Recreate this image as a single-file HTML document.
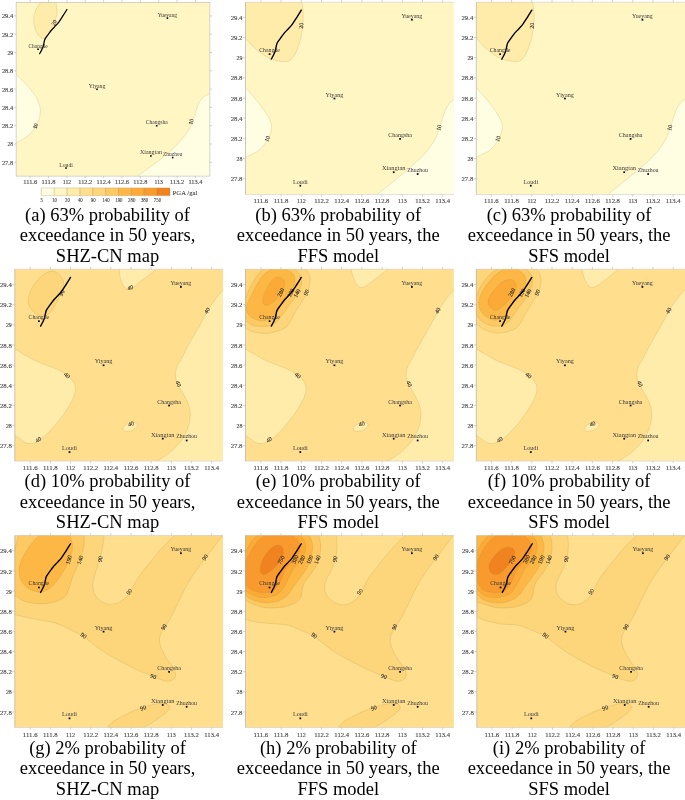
<!DOCTYPE html>
<html lang="en">
<head>
<meta charset="utf-8">
<title>PGA hazard maps</title>
<style>
html,body{margin:0;padding:0;background:#fff;}
body{width:685px;height:800px;overflow:hidden;font-family:"Liberation Serif",serif;}
svg{display:block;}
</style>
</head>
<body>
<svg width="685" height="800" viewBox="0 0 685 800">
<defs>
<clipPath id="cpa"><rect x="16.1" y="2.35" width="193.8" height="173.75"/></clipPath>
<clipPath id="cpb"><rect x="245.5" y="2.25" width="208.3" height="192.35"/></clipPath>
<clipPath id="cpc"><rect x="476.3" y="2.25" width="209.2" height="192.35"/></clipPath>
<clipPath id="cpd"><rect x="14.8" y="269.2" width="208.2" height="191.9"/></clipPath>
<clipPath id="cpe"><rect x="245.5" y="269.2" width="208.3" height="191.9"/></clipPath>
<clipPath id="cpf"><rect x="476.3" y="269.2" width="209.2" height="191.9"/></clipPath>
<clipPath id="cpg"><rect x="14.8" y="535.5" width="208.2" height="192"/></clipPath>
<clipPath id="cph"><rect x="245.5" y="535.5" width="208.3" height="192"/></clipPath>
<clipPath id="cpi"><rect x="476.8" y="535.5" width="208.7" height="192"/></clipPath>
</defs>
<rect width="685" height="800" fill="#fff"/>
<g id="panel-a">
<rect x="16.1" y="2.35" width="193.8" height="173.75" fill="#FFF6C3"/>
<g clip-path="url(#cpa)" stroke="#A58432" stroke-opacity="0.5" stroke-width="0.36" stroke-linejoin="round">
<path d="M48 -4C49.67 -4 52.2 -3.53 53.5 -2.5C54.8 -1.47 55.22 0.32 55.8 2.2C56.38 4.08 56.95 6.25 57 8.8C57.05 11.35 56.9 14.15 56.1 17.5C55.3 20.85 53.73 25.83 52.2 28.9C50.67 31.97 48.43 34.3 46.9 35.9C45.37 37.5 44.32 38.5 43 38.5C41.68 38.5 40.25 37.35 39 35.9C37.75 34.45 36.37 32.43 35.5 29.8C34.63 27.17 33.8 23.32 33.8 20.1C33.8 16.88 34.33 13.48 35.5 10.5C36.67 7.52 39.47 4.37 40.8 2.2C42.13 0.03 42.3 -1.47 43.5 -2.5C44.7 -3.53 46.33 -4 48 -4Z" fill="#FFEBAA"/>
<path d="M12 70.5C12.68 71.2 14.43 73.12 16.1 74.7C17.77 76.28 20.02 78.03 22 80C23.98 81.97 26.17 84.42 28 86.5C29.83 88.58 31.42 90.33 33 92.5C34.58 94.67 36.28 96.83 37.5 99.5C38.72 102.17 39.88 105.88 40.3 108.5C40.72 111.12 40.5 112.68 40 115.2C39.5 117.72 38.65 120.8 37.3 123.6C35.95 126.4 33.92 129.63 31.9 132C29.88 134.37 27.83 135.98 25.2 137.8C22.57 139.62 18.47 141.62 16.1 142.9C13.73 144.18 11.85 145.07 11 145.5L8 146C8 133.33 8 82.67 8 70Z" fill="#FFFDE2"/>
<path d="M213 91.8C212.4 92.12 210.9 92.88 209.4 93.7C207.9 94.52 205.73 95.22 204 96.7C202.27 98.18 200.25 100.37 199 102.6C197.75 104.83 197.48 107.17 196.5 110.1C195.52 113.03 194.37 116.98 193.1 120.2C191.83 123.42 190.72 126.32 188.9 129.4C187.08 132.48 184.72 135.62 182.2 138.7C179.68 141.78 177.15 144.68 173.8 147.9C170.45 151.12 166.3 154.63 162.1 158C157.9 161.37 152.8 165.03 148.6 168.1C144.4 171.17 139.83 174.32 136.9 176.4C133.97 178.48 131.98 179.9 131 180.6L216 181C216 166.13 216 106.67 216 91.8Z" fill="#FFFDE2"/>
</g>
<rect x="16.1" y="2.35" width="193.8" height="173.75" fill="none" stroke="#B4B4B4" stroke-width="0.55"/>
<path d="M30.2 176.1v2.2M30.2 2.35v-2.4M48.56 176.1v2.2M48.56 2.35v-2.4M66.92 176.1v2.2M66.92 2.35v-2.4M85.28 176.1v2.2M85.28 2.35v-2.4M103.64 176.1v2.2M103.64 2.35v-2.4M122 176.1v2.2M122 2.35v-2.4M140.36 176.1v2.2M140.36 2.35v-2.4M158.72 176.1v2.2M158.72 2.35v-2.4M177.08 176.1v2.2M177.08 2.35v-2.4M195.44 176.1v2.2M195.44 2.35v-2.4M16.1 15.9h-1.9M209.9 15.9h2.2M16.1 34.2h-1.9M209.9 34.2h2.2M16.1 52.5h-1.9M209.9 52.5h2.2M16.1 70.8h-1.9M209.9 70.8h2.2M16.1 89.1h-1.9M209.9 89.1h2.2M16.1 107.4h-1.9M209.9 107.4h2.2M16.1 125.7h-1.9M209.9 125.7h2.2M16.1 144h-1.9M209.9 144h2.2M16.1 162.3h-1.9M209.9 162.3h2.2" stroke="#9E9E9E" stroke-width="0.45" fill="none"/>
<g font-family="'Liberation Serif','Noto Serif CJK SC',serif" font-size="5.5" fill="#4a4a4a" stroke="#4a4a4a" stroke-width="0.12">
<text x="30.2" y="184.47" text-anchor="middle" textLength="14" lengthAdjust="spacingAndGlyphs">111.6</text>
<text x="48.56" y="184.47" text-anchor="middle" textLength="14" lengthAdjust="spacingAndGlyphs">111.8</text>
<text x="66.92" y="184.47" text-anchor="middle" textLength="8.4" lengthAdjust="spacingAndGlyphs">112</text>
<text x="85.28" y="184.47" text-anchor="middle" textLength="14" lengthAdjust="spacingAndGlyphs">112.2</text>
<text x="103.64" y="184.47" text-anchor="middle" textLength="14" lengthAdjust="spacingAndGlyphs">112.4</text>
<text x="122" y="184.47" text-anchor="middle" textLength="14" lengthAdjust="spacingAndGlyphs">112.6</text>
<text x="140.36" y="184.47" text-anchor="middle" textLength="14" lengthAdjust="spacingAndGlyphs">112.8</text>
<text x="158.72" y="184.47" text-anchor="middle" textLength="8.4" lengthAdjust="spacingAndGlyphs">113</text>
<text x="177.08" y="184.47" text-anchor="middle" textLength="14" lengthAdjust="spacingAndGlyphs">113.2</text>
<text x="195.44" y="184.47" text-anchor="middle" textLength="14" lengthAdjust="spacingAndGlyphs">113.4</text>
<text x="13.1" y="18.37" text-anchor="end" textLength="11.2" lengthAdjust="spacingAndGlyphs">29.4</text>
<text x="13.1" y="36.67" text-anchor="end" textLength="11.2" lengthAdjust="spacingAndGlyphs">29.2</text>
<text x="13.1" y="54.97" text-anchor="end" textLength="5.6" lengthAdjust="spacingAndGlyphs">29</text>
<text x="13.1" y="73.27" text-anchor="end" textLength="11.2" lengthAdjust="spacingAndGlyphs">28.8</text>
<text x="13.1" y="91.57" text-anchor="end" textLength="11.2" lengthAdjust="spacingAndGlyphs">28.6</text>
<text x="13.1" y="109.87" text-anchor="end" textLength="11.2" lengthAdjust="spacingAndGlyphs">28.4</text>
<text x="13.1" y="128.17" text-anchor="end" textLength="11.2" lengthAdjust="spacingAndGlyphs">28.2</text>
<text x="13.1" y="146.47" text-anchor="end" textLength="5.6" lengthAdjust="spacingAndGlyphs">28</text>
<text x="13.1" y="164.77" text-anchor="end" textLength="11.2" lengthAdjust="spacingAndGlyphs">27.8</text>
</g>
<g font-family="'Liberation Serif','Noto Serif CJK SC',serif" font-size="5.5" fill="#2a2a2a" stroke="#2a2a2a" stroke-width="0.1" text-anchor="middle" clip-path="url(#cpa)">
<text transform="translate(54.1 22.7) rotate(-62)" y="1.82" textLength="5.5" lengthAdjust="spacingAndGlyphs">20</text>
<text transform="translate(35.6 126.1) rotate(-68)" y="1.82" textLength="5.5" lengthAdjust="spacingAndGlyphs">10</text>
<text transform="translate(191.1 121.6) rotate(-78)" y="1.82" textLength="5.5" lengthAdjust="spacingAndGlyphs">10</text>
</g>
<path d="M66.92 9.49C66.25 10.56 64.23 13.81 62.88 15.9C61.53 17.99 60.16 20.28 58.84 22.03C57.53 23.78 56.19 25.1 54.99 26.42C53.78 27.75 52.74 28.62 51.59 29.99C50.44 31.36 49.2 33.13 48.1 34.66C47 36.18 45.67 37.77 44.98 39.14C44.29 40.51 44.26 41.7 43.97 42.89C43.68 44.08 43.62 45.1 43.24 46.28C42.85 47.45 42.27 48.7 41.67 49.94C41.08 51.17 39.99 53.06 39.66 53.69" fill="none" stroke="#000" stroke-width="1.25" stroke-linecap="round" stroke-linejoin="round"/>
<g font-family="'Liberation Serif','Noto Serif CJK SC',serif" font-size="5.5" fill="#3c3c3c" text-anchor="middle">
<rect x="37.31" y="48.43" width="1.56" height="1.56" fill="#000"/>
<text x="38.09" y="47.76" textLength="19.25" lengthAdjust="spacingAndGlyphs">Changde</text>
<rect x="166.66" y="17.32" width="1.56" height="1.56" fill="#000"/>
<text x="167.44" y="16.65" textLength="19.25" lengthAdjust="spacingAndGlyphs">Yueyang</text>
<rect x="96.25" y="88.5" width="1.56" height="1.56" fill="#000"/>
<text x="97.03" y="87.83" textLength="16.5" lengthAdjust="spacingAndGlyphs">Yiyang</text>
<rect x="155.92" y="125.01" width="1.56" height="1.56" fill="#000"/>
<text x="156.7" y="124.34" textLength="22" lengthAdjust="spacingAndGlyphs">Changsha</text>
<rect x="150.14" y="155.11" width="1.56" height="1.56" fill="#000"/>
<text x="150.92" y="154.44" textLength="22" lengthAdjust="spacingAndGlyphs">Xiangtan</text>
<rect x="171.89" y="156.76" width="1.56" height="1.56" fill="#000"/>
<text x="172.67" y="156.09" textLength="19.25" lengthAdjust="spacingAndGlyphs">Zhuzhou</text>
<rect x="65.22" y="167.28" width="1.56" height="1.56" fill="#000"/>
<text x="66" y="166.61" textLength="13.75" lengthAdjust="spacingAndGlyphs">Loudi</text>
</g>
</g>
<g id="panel-b">
<rect x="245.5" y="2.25" width="208.3" height="192.35" fill="#FFF6C3"/>
<g clip-path="url(#cpb)" stroke="#A58432" stroke-opacity="0.5" stroke-width="0.36" stroke-linejoin="round">
<path d="M301.3 -3C301.43 -2.08 301.78 -0.67 302.1 2.5C302.42 5.67 303.2 11.07 303.2 16C303.2 20.93 302.77 27.53 302.1 32.1C301.43 36.67 300.27 39.92 299.2 43.4C298.13 46.88 297.1 50.28 295.7 53C294.3 55.72 292.55 58.28 290.8 59.7C289.05 61.12 288.13 61.5 285.2 61.5C282.27 61.5 277.07 60.98 273.2 59.7C269.33 58.42 265.48 56.12 262 53.8C258.52 51.48 255.07 48.48 252.3 45.8C249.53 43.12 247.37 40.17 245.4 37.7C243.43 35.23 241.32 32.12 240.5 31L240 -3Z" fill="#FFEBAA"/>
<path d="M241.5 83C242.17 83.77 243.22 85.02 245.5 87.6C247.78 90.18 252.18 94.87 255.2 98.5C258.22 102.13 261.23 106.03 263.6 109.4C265.97 112.77 268.07 115.9 269.4 118.7C270.73 121.5 271.45 123.68 271.6 126.2C271.75 128.72 271.22 131.13 270.3 133.8C269.38 136.47 268.07 139.4 266.1 142.2C264.13 145 261.87 148.13 258.5 150.6C255.13 153.07 248.9 155.55 245.9 157C242.9 158.45 241.4 158.92 240.5 159.3L238 159.5C238 146.75 238 95.75 238 83Z" fill="#FFFDE2"/>
<path d="M458 97.3C457.3 97.72 455.15 98.9 453.8 99.8C452.45 100.7 451.1 101.38 449.9 102.7C448.7 104.02 447.72 105.47 446.6 107.7C445.48 109.93 444.33 112.88 443.2 116.1C442.07 119.32 440.92 123.65 439.8 127C438.68 130.35 438.03 132.98 436.5 136.2C434.97 139.42 432.98 142.93 430.6 146.3C428.22 149.67 425.28 153.18 422.2 156.4C419.12 159.62 415.73 162.38 412.1 165.6C408.47 168.82 404.58 172.2 400.4 175.7C396.22 179.2 390.92 183.45 387 186.6C383.08 189.75 379.48 192.53 376.9 194.6C374.32 196.67 372.4 198.27 371.5 199L460 199.5C460 182.47 460 114.33 460 97.3Z" fill="#FFFDE2"/>
</g>
<path d="M453.8 2.25H245.5M245.5 194.6H453.8" fill="none" stroke="#C6C6CC" stroke-width="0.5"/>
<path d="M245.5 2.25V194.6" fill="none" stroke="#A6A6A6" stroke-width="0.6"/>
<path d="M260.9 194.6v2.2M260.9 2.25v-2.4M281.1 194.6v2.2M281.1 2.25v-2.4M301.3 194.6v2.2M301.3 2.25v-2.4M321.5 194.6v2.2M321.5 2.25v-2.4M341.7 194.6v2.2M341.7 2.25v-2.4M361.9 194.6v2.2M361.9 2.25v-2.4M382.1 194.6v2.2M382.1 2.25v-2.4M402.3 194.6v2.2M402.3 2.25v-2.4M422.5 194.6v2.2M422.5 2.25v-2.4M442.7 194.6v2.2M442.7 2.25v-2.4M245.5 17.3h-2.5M245.5 37.48h-2.5M245.5 57.66h-2.5M245.5 77.84h-2.5M245.5 98.02h-2.5M245.5 118.2h-2.5M245.5 138.38h-2.5M245.5 158.56h-2.5M245.5 178.74h-2.5" stroke="#9E9E9E" stroke-width="0.45" fill="none"/>
<g font-family="'Liberation Serif','Noto Serif CJK SC',serif" font-size="5.9" fill="#4a4a4a" stroke="#4a4a4a" stroke-width="0.12">
<text x="260.9" y="203.01" text-anchor="middle" textLength="14.75" lengthAdjust="spacingAndGlyphs">111.6</text>
<text x="281.1" y="203.01" text-anchor="middle" textLength="14.75" lengthAdjust="spacingAndGlyphs">111.8</text>
<text x="301.3" y="203.01" text-anchor="middle" textLength="8.85" lengthAdjust="spacingAndGlyphs">112</text>
<text x="321.5" y="203.01" text-anchor="middle" textLength="14.75" lengthAdjust="spacingAndGlyphs">112.2</text>
<text x="341.7" y="203.01" text-anchor="middle" textLength="14.75" lengthAdjust="spacingAndGlyphs">112.4</text>
<text x="361.9" y="203.01" text-anchor="middle" textLength="14.75" lengthAdjust="spacingAndGlyphs">112.6</text>
<text x="382.1" y="203.01" text-anchor="middle" textLength="14.75" lengthAdjust="spacingAndGlyphs">112.8</text>
<text x="402.3" y="203.01" text-anchor="middle" textLength="8.85" lengthAdjust="spacingAndGlyphs">113</text>
<text x="422.5" y="203.01" text-anchor="middle" textLength="14.75" lengthAdjust="spacingAndGlyphs">113.2</text>
<text x="442.7" y="203.01" text-anchor="middle" textLength="14.75" lengthAdjust="spacingAndGlyphs">113.4</text>
<text x="242.5" y="19.91" text-anchor="end" textLength="11.8" lengthAdjust="spacingAndGlyphs">29.4</text>
<text x="242.5" y="40.09" text-anchor="end" textLength="11.8" lengthAdjust="spacingAndGlyphs">29.2</text>
<text x="242.5" y="60.27" text-anchor="end" textLength="5.9" lengthAdjust="spacingAndGlyphs">29</text>
<text x="242.5" y="80.45" text-anchor="end" textLength="11.8" lengthAdjust="spacingAndGlyphs">28.8</text>
<text x="242.5" y="100.63" text-anchor="end" textLength="11.8" lengthAdjust="spacingAndGlyphs">28.6</text>
<text x="242.5" y="120.81" text-anchor="end" textLength="11.8" lengthAdjust="spacingAndGlyphs">28.4</text>
<text x="242.5" y="140.99" text-anchor="end" textLength="11.8" lengthAdjust="spacingAndGlyphs">28.2</text>
<text x="242.5" y="161.17" text-anchor="end" textLength="5.9" lengthAdjust="spacingAndGlyphs">28</text>
<text x="242.5" y="181.35" text-anchor="end" textLength="11.8" lengthAdjust="spacingAndGlyphs">27.8</text>
</g>
<g font-family="'Liberation Serif','Noto Serif CJK SC',serif" font-size="5.9" fill="#2a2a2a" stroke="#2a2a2a" stroke-width="0.1" text-anchor="middle" clip-path="url(#cpb)">
<text transform="translate(301.2 25.7) rotate(-88)" y="1.95" textLength="5.9" lengthAdjust="spacingAndGlyphs">20</text>
<text transform="translate(267.3 138.8) rotate(-68)" y="1.95" textLength="5.9" lengthAdjust="spacingAndGlyphs">10</text>
<text transform="translate(439 127.8) rotate(-78)" y="1.95" textLength="5.9" lengthAdjust="spacingAndGlyphs">10</text>
</g>
<path d="M301.3 10.21C300.56 11.39 298.34 14.99 296.86 17.3C295.37 19.61 293.86 22.14 292.41 24.08C290.96 26.02 289.5 27.48 288.17 28.94C286.84 30.41 285.7 31.37 284.43 32.89C283.17 34.41 281.81 36.37 280.6 38.06C279.38 39.74 277.92 41.5 277.16 43.02C276.4 44.54 276.37 45.85 276.05 47.17C275.73 48.48 275.66 49.62 275.24 50.91C274.82 52.21 274.18 53.6 273.52 54.96C272.87 56.33 271.67 58.42 271.3 59.12" fill="none" stroke="#000" stroke-width="1.4" stroke-linecap="round" stroke-linejoin="round"/>
<g font-family="'Liberation Serif','Noto Serif CJK SC',serif" font-size="5.9" fill="#3c3c3c" text-anchor="middle">
<rect x="268.73" y="53.29" width="1.72" height="1.72" fill="#000"/>
<text x="269.59" y="52.17" textLength="20.65" lengthAdjust="spacingAndGlyphs">Changde</text>
<rect x="411.04" y="18.87" width="1.72" height="1.72" fill="#000"/>
<text x="411.9" y="17.75" textLength="20.65" lengthAdjust="spacingAndGlyphs">Yueyang</text>
<rect x="333.57" y="97.64" width="1.72" height="1.72" fill="#000"/>
<text x="334.43" y="96.52" textLength="17.7" lengthAdjust="spacingAndGlyphs">Yiyang</text>
<rect x="399.22" y="138.04" width="1.72" height="1.72" fill="#000"/>
<text x="400.08" y="136.92" textLength="23.6" lengthAdjust="spacingAndGlyphs">Changsha</text>
<rect x="392.86" y="171.35" width="1.72" height="1.72" fill="#000"/>
<text x="393.72" y="170.23" textLength="23.6" lengthAdjust="spacingAndGlyphs">Xiangtan</text>
<rect x="416.79" y="173.17" width="1.72" height="1.72" fill="#000"/>
<text x="417.65" y="172.05" textLength="20.65" lengthAdjust="spacingAndGlyphs">Zhuzhou</text>
<rect x="299.43" y="184.82" width="1.72" height="1.72" fill="#000"/>
<text x="300.29" y="183.7" textLength="14.75" lengthAdjust="spacingAndGlyphs">Loudi</text>
</g>
</g>
<g id="panel-c">
<rect x="476.3" y="2.25" width="209.2" height="192.35" fill="#FFF6C3"/>
<g clip-path="url(#cpc)" stroke="#A58432" stroke-opacity="0.5" stroke-width="0.36" stroke-linejoin="round">
<path d="M532.05 -3C532.18 -2.08 532.53 -0.67 532.85 2.5C533.17 5.67 533.95 11.07 533.95 16C533.95 20.93 533.52 27.53 532.85 32.1C532.18 36.67 531.02 39.92 529.95 43.4C528.88 46.88 527.85 50.28 526.45 53C525.05 55.72 523.3 58.28 521.55 59.7C519.8 61.12 518.88 61.5 515.95 61.5C513.02 61.5 507.82 60.98 503.95 59.7C500.08 58.42 496.23 56.12 492.75 53.8C489.27 51.48 485.82 48.48 483.05 45.8C480.28 43.12 478.12 40.17 476.15 37.7C474.18 35.23 472.07 32.12 471.25 31L470.75 -3Z" fill="#FFEBAA"/>
<path d="M472.25 83C472.92 83.77 473.97 85.02 476.25 87.6C478.53 90.18 482.93 94.87 485.95 98.5C488.97 102.13 491.98 106.03 494.35 109.4C496.72 112.77 498.82 115.9 500.15 118.7C501.48 121.5 502.2 123.68 502.35 126.2C502.5 128.72 501.97 131.13 501.05 133.8C500.13 136.47 498.82 139.4 496.85 142.2C494.88 145 492.62 148.13 489.25 150.6C485.88 153.07 479.65 155.55 476.65 157C473.65 158.45 472.15 158.92 471.25 159.3L468.75 159.5C468.75 146.75 468.75 95.75 468.75 83Z" fill="#FFFDE2"/>
<path d="M688.75 97.3C688.05 97.72 685.9 98.9 684.55 99.8C683.2 100.7 681.85 101.38 680.65 102.7C679.45 104.02 678.47 105.47 677.35 107.7C676.23 109.93 675.08 112.88 673.95 116.1C672.82 119.32 671.67 123.65 670.55 127C669.43 130.35 668.78 132.98 667.25 136.2C665.72 139.42 663.73 142.93 661.35 146.3C658.97 149.67 656.03 153.18 652.95 156.4C649.87 159.62 646.48 162.38 642.85 165.6C639.22 168.82 635.33 172.2 631.15 175.7C626.97 179.2 621.67 183.45 617.75 186.6C613.83 189.75 610.23 192.53 607.65 194.6C605.07 196.67 603.15 198.27 602.25 199L690.75 199.5C690.75 182.47 690.75 114.33 690.75 97.3Z" fill="#FFFDE2"/>
</g>
<path d="M685.5 2.25H476.3M476.3 194.6H685.5" fill="none" stroke="#C6C6CC" stroke-width="0.5"/>
<path d="M476.3 2.25V194.6" fill="none" stroke="#A6A6A6" stroke-width="0.6"/>
<path d="M491.4 194.6v2.2M491.4 2.25v-2.4M511.6 194.6v2.2M511.6 2.25v-2.4M531.8 194.6v2.2M531.8 2.25v-2.4M552 194.6v2.2M552 2.25v-2.4M572.2 194.6v2.2M572.2 2.25v-2.4M592.4 194.6v2.2M592.4 2.25v-2.4M612.6 194.6v2.2M612.6 2.25v-2.4M632.8 194.6v2.2M632.8 2.25v-2.4M653 194.6v2.2M653 2.25v-2.4M673.2 194.6v2.2M673.2 2.25v-2.4M476.3 17.3h-2.5M476.3 37.48h-2.5M476.3 57.66h-2.5M476.3 77.84h-2.5M476.3 98.02h-2.5M476.3 118.2h-2.5M476.3 138.38h-2.5M476.3 158.56h-2.5M476.3 178.74h-2.5" stroke="#9E9E9E" stroke-width="0.45" fill="none"/>
<g font-family="'Liberation Serif','Noto Serif CJK SC',serif" font-size="5.9" fill="#4a4a4a" stroke="#4a4a4a" stroke-width="0.12">
<text x="491.4" y="203.01" text-anchor="middle" textLength="14.75" lengthAdjust="spacingAndGlyphs">111.6</text>
<text x="511.6" y="203.01" text-anchor="middle" textLength="14.75" lengthAdjust="spacingAndGlyphs">111.8</text>
<text x="531.8" y="203.01" text-anchor="middle" textLength="8.85" lengthAdjust="spacingAndGlyphs">112</text>
<text x="552" y="203.01" text-anchor="middle" textLength="14.75" lengthAdjust="spacingAndGlyphs">112.2</text>
<text x="572.2" y="203.01" text-anchor="middle" textLength="14.75" lengthAdjust="spacingAndGlyphs">112.4</text>
<text x="592.4" y="203.01" text-anchor="middle" textLength="14.75" lengthAdjust="spacingAndGlyphs">112.6</text>
<text x="612.6" y="203.01" text-anchor="middle" textLength="14.75" lengthAdjust="spacingAndGlyphs">112.8</text>
<text x="632.8" y="203.01" text-anchor="middle" textLength="8.85" lengthAdjust="spacingAndGlyphs">113</text>
<text x="653" y="203.01" text-anchor="middle" textLength="14.75" lengthAdjust="spacingAndGlyphs">113.2</text>
<text x="673.2" y="203.01" text-anchor="middle" textLength="14.75" lengthAdjust="spacingAndGlyphs">113.4</text>
<text x="473.3" y="19.91" text-anchor="end" textLength="11.8" lengthAdjust="spacingAndGlyphs">29.4</text>
<text x="473.3" y="40.09" text-anchor="end" textLength="11.8" lengthAdjust="spacingAndGlyphs">29.2</text>
<text x="473.3" y="60.27" text-anchor="end" textLength="5.9" lengthAdjust="spacingAndGlyphs">29</text>
<text x="473.3" y="80.45" text-anchor="end" textLength="11.8" lengthAdjust="spacingAndGlyphs">28.8</text>
<text x="473.3" y="100.63" text-anchor="end" textLength="11.8" lengthAdjust="spacingAndGlyphs">28.6</text>
<text x="473.3" y="120.81" text-anchor="end" textLength="11.8" lengthAdjust="spacingAndGlyphs">28.4</text>
<text x="473.3" y="140.99" text-anchor="end" textLength="11.8" lengthAdjust="spacingAndGlyphs">28.2</text>
<text x="473.3" y="161.17" text-anchor="end" textLength="5.9" lengthAdjust="spacingAndGlyphs">28</text>
<text x="473.3" y="181.35" text-anchor="end" textLength="11.8" lengthAdjust="spacingAndGlyphs">27.8</text>
</g>
<g font-family="'Liberation Serif','Noto Serif CJK SC',serif" font-size="5.9" fill="#2a2a2a" stroke="#2a2a2a" stroke-width="0.1" text-anchor="middle" clip-path="url(#cpc)">
<text transform="translate(531.95 25.7) rotate(-88)" y="1.95" textLength="5.9" lengthAdjust="spacingAndGlyphs">20</text>
<text transform="translate(498.05 138.8) rotate(-68)" y="1.95" textLength="5.9" lengthAdjust="spacingAndGlyphs">10</text>
<text transform="translate(669.75 127.8) rotate(-78)" y="1.95" textLength="5.9" lengthAdjust="spacingAndGlyphs">10</text>
</g>
<path d="M531.8 10.21C531.06 11.39 528.84 14.99 527.36 17.3C525.87 19.61 524.36 22.14 522.91 24.08C521.46 26.02 520 27.48 518.67 28.94C517.34 30.41 516.2 31.37 514.93 32.89C513.67 34.41 512.31 36.37 511.1 38.06C509.88 39.74 508.42 41.5 507.66 43.02C506.9 44.54 506.87 45.85 506.55 47.17C506.23 48.48 506.16 49.62 505.74 50.91C505.32 52.21 504.68 53.6 504.02 54.96C503.37 56.33 502.17 58.42 501.8 59.12" fill="none" stroke="#000" stroke-width="1.4" stroke-linecap="round" stroke-linejoin="round"/>
<g font-family="'Liberation Serif','Noto Serif CJK SC',serif" font-size="5.9" fill="#3c3c3c" text-anchor="middle">
<rect x="499.23" y="53.29" width="1.72" height="1.72" fill="#000"/>
<text x="500.09" y="52.17" textLength="20.65" lengthAdjust="spacingAndGlyphs">Changde</text>
<rect x="641.54" y="18.87" width="1.72" height="1.72" fill="#000"/>
<text x="642.4" y="17.75" textLength="20.65" lengthAdjust="spacingAndGlyphs">Yueyang</text>
<rect x="564.07" y="97.64" width="1.72" height="1.72" fill="#000"/>
<text x="564.93" y="96.52" textLength="17.7" lengthAdjust="spacingAndGlyphs">Yiyang</text>
<rect x="629.72" y="138.04" width="1.72" height="1.72" fill="#000"/>
<text x="630.58" y="136.92" textLength="23.6" lengthAdjust="spacingAndGlyphs">Changsha</text>
<rect x="623.36" y="171.35" width="1.72" height="1.72" fill="#000"/>
<text x="624.22" y="170.23" textLength="23.6" lengthAdjust="spacingAndGlyphs">Xiangtan</text>
<rect x="647.29" y="173.17" width="1.72" height="1.72" fill="#000"/>
<text x="648.15" y="172.05" textLength="20.65" lengthAdjust="spacingAndGlyphs">Zhuzhou</text>
<rect x="529.93" y="184.82" width="1.72" height="1.72" fill="#000"/>
<text x="530.79" y="183.7" textLength="14.75" lengthAdjust="spacingAndGlyphs">Loudi</text>
</g>
</g>
<g id="panel-d">
<rect x="14.8" y="269.2" width="208.2" height="191.9" fill="#FFDF8E"/>
<g clip-path="url(#cpd)" stroke="#A58432" stroke-opacity="0.5" stroke-width="0.36" stroke-linejoin="round">
<path d="M9.5 345.8C10.38 346.32 12.48 347.53 14.8 348.9C17.12 350.27 20 352.05 23.4 354C26.8 355.95 31.28 358.72 35.2 360.6C39.12 362.48 42.98 363.73 46.9 365.3C50.82 366.87 55.2 368.23 58.7 370C62.2 371.77 65.38 373.8 67.9 375.9C70.42 378 72.53 380.37 73.8 382.6C75.07 384.83 75.63 386.63 75.5 389.3C75.37 391.97 74.27 395.52 73 398.6C71.73 401.68 70 404.45 67.9 407.8C65.8 411.15 63.05 415.2 60.4 418.7C57.75 422.2 54.8 425.72 52 428.8C49.2 431.88 46.12 435.02 43.6 437.2C41.08 439.38 39.15 440.83 36.9 441.9C34.65 442.97 32.07 443.48 30.1 443.6C28.13 443.72 26.77 443.38 25.1 442.6C23.43 441.82 21.78 440.03 20.1 438.9C18.42 437.77 16.77 436.78 15 435.8C13.23 434.82 10.42 433.47 9.5 433L8 433C8 418.47 8 360.33 8 345.8Z" fill="#FFEBAA"/>
<path d="M119 264C119.03 264.87 119.03 267.07 119.2 269.2C119.37 271.33 119.43 274.28 120 276.8C120.57 279.32 121.47 282.27 122.6 284.3C123.73 286.33 125.27 288.3 126.8 289C128.33 289.7 129.57 289.7 131.8 288.5C134.03 287.3 137.37 284 140.2 281.8C143.03 279.6 146.12 277.4 148.8 275.3C151.48 273.2 154.1 271.08 156.3 269.2C158.5 267.32 161.05 264.87 162 264Z" fill="#FFEBAA"/>
<path d="M227.5 285C226.73 285.87 224.87 287.93 222.9 290.2C220.93 292.47 218.3 295.1 215.7 298.6C213.1 302.1 209.82 307 207.3 311.2C204.78 315.4 202.83 319.75 200.6 323.8C198.37 327.85 196.13 331.58 193.9 335.5C191.67 339.42 189.3 343.38 187.2 347.3C185.1 351.22 182.9 356.05 181.3 359C179.7 361.95 178.58 362.6 177.6 365C176.62 367.4 175.53 370.6 175.4 373.4C175.27 376.2 175.68 378.72 176.8 381.8C177.92 384.88 180.37 388.68 182.1 391.9C183.83 395.12 185.88 397.88 187.2 401.1C188.52 404.32 189.58 407.98 190 411.2C190.42 414.42 190.17 417.33 189.7 420.4C189.23 423.47 188.6 426.25 187.2 429.6C185.8 432.95 183.82 437 181.3 440.5C178.78 444 175.03 447.85 172.1 450.6C169.17 453.35 166.22 455.27 163.7 457C161.18 458.73 159.28 459.63 157 461C154.72 462.37 151.17 464.5 150 465.2L231 466C231 435.83 231 315.17 231 285Z" fill="#FFEBAA"/>
<path d="M137.33 423.98C137.62 424.69 137.41 425.75 136.81 426.66C136.21 427.57 134.98 428.67 133.72 429.44C132.47 430.2 130.69 430.92 129.25 431.24C127.82 431.57 126.17 431.63 125.11 431.39C124.04 431.15 123.15 430.53 122.87 429.82C122.58 429.11 122.79 428.05 123.39 427.14C123.99 426.23 125.22 425.13 126.48 424.36C127.73 423.6 129.51 422.88 130.95 422.56C132.38 422.23 134.03 422.17 135.09 422.41C136.16 422.65 137.05 423.27 137.33 423.98Z" fill="#FFEBAA"/>
<path d="M52.8 271.1C55.35 271.35 58.2 273.33 60 275.2C61.8 277.07 63.27 279.75 63.6 282.3C63.93 284.85 62.95 287.6 62 290.5C61.05 293.4 59.43 296.63 57.9 299.7C56.37 302.77 54.5 306.43 52.8 308.9C51.1 311.37 49.4 313.3 47.7 314.5C46 315.7 44.47 316.18 42.6 316.1C40.73 316.02 38.45 315.2 36.5 314C34.55 312.8 32.27 310.93 30.9 308.9C29.53 306.87 28.4 304.7 28.3 301.8C28.2 298.9 28.93 294.92 30.3 291.5C31.67 288.08 34.1 284.27 36.5 281.3C38.9 278.33 41.98 275.4 44.7 273.7C47.42 272 50.25 270.85 52.8 271.1Z" fill="#FDD57A"/>
</g>
<path d="M223 269.2H14.8M14.8 461.1H223" fill="none" stroke="#C6C6CC" stroke-width="0.5"/>
<path d="M14.8 269.2V461.1" fill="none" stroke="#A6A6A6" stroke-width="0.6"/>
<path d="M30.2 461.1v2.2M30.2 269.2v-2.4M50.36 461.1v2.2M50.36 269.2v-2.4M70.52 461.1v2.2M70.52 269.2v-2.4M90.68 461.1v2.2M90.68 269.2v-2.4M110.84 461.1v2.2M110.84 269.2v-2.4M131 461.1v2.2M131 269.2v-2.4M151.16 461.1v2.2M151.16 269.2v-2.4M171.32 461.1v2.2M171.32 269.2v-2.4M191.48 461.1v2.2M191.48 269.2v-2.4M211.64 461.1v2.2M211.64 269.2v-2.4M14.8 284.5h-2.5M14.8 304.65h-2.5M14.8 324.8h-2.5M14.8 344.95h-2.5M14.8 365.1h-2.5M14.8 385.25h-2.5M14.8 405.4h-2.5M14.8 425.55h-2.5M14.8 445.7h-2.5" stroke="#9E9E9E" stroke-width="0.45" fill="none"/>
<g font-family="'Liberation Serif','Noto Serif CJK SC',serif" font-size="5.9" fill="#4a4a4a" stroke="#4a4a4a" stroke-width="0.12">
<text x="30.2" y="470.01" text-anchor="middle" textLength="14.75" lengthAdjust="spacingAndGlyphs">111.6</text>
<text x="50.36" y="470.01" text-anchor="middle" textLength="14.75" lengthAdjust="spacingAndGlyphs">111.8</text>
<text x="70.52" y="470.01" text-anchor="middle" textLength="8.85" lengthAdjust="spacingAndGlyphs">112</text>
<text x="90.68" y="470.01" text-anchor="middle" textLength="14.75" lengthAdjust="spacingAndGlyphs">112.2</text>
<text x="110.84" y="470.01" text-anchor="middle" textLength="14.75" lengthAdjust="spacingAndGlyphs">112.4</text>
<text x="131" y="470.01" text-anchor="middle" textLength="14.75" lengthAdjust="spacingAndGlyphs">112.6</text>
<text x="151.16" y="470.01" text-anchor="middle" textLength="14.75" lengthAdjust="spacingAndGlyphs">112.8</text>
<text x="171.32" y="470.01" text-anchor="middle" textLength="8.85" lengthAdjust="spacingAndGlyphs">113</text>
<text x="191.48" y="470.01" text-anchor="middle" textLength="14.75" lengthAdjust="spacingAndGlyphs">113.2</text>
<text x="211.64" y="470.01" text-anchor="middle" textLength="14.75" lengthAdjust="spacingAndGlyphs">113.4</text>
<text x="11.8" y="287.11" text-anchor="end" textLength="11.8" lengthAdjust="spacingAndGlyphs">29.4</text>
<text x="11.8" y="307.26" text-anchor="end" textLength="11.8" lengthAdjust="spacingAndGlyphs">29.2</text>
<text x="11.8" y="327.41" text-anchor="end" textLength="5.9" lengthAdjust="spacingAndGlyphs">29</text>
<text x="11.8" y="347.56" text-anchor="end" textLength="11.8" lengthAdjust="spacingAndGlyphs">28.8</text>
<text x="11.8" y="367.71" text-anchor="end" textLength="11.8" lengthAdjust="spacingAndGlyphs">28.6</text>
<text x="11.8" y="387.86" text-anchor="end" textLength="11.8" lengthAdjust="spacingAndGlyphs">28.4</text>
<text x="11.8" y="408.01" text-anchor="end" textLength="11.8" lengthAdjust="spacingAndGlyphs">28.2</text>
<text x="11.8" y="428.16" text-anchor="end" textLength="5.9" lengthAdjust="spacingAndGlyphs">28</text>
<text x="11.8" y="448.31" text-anchor="end" textLength="11.8" lengthAdjust="spacingAndGlyphs">27.8</text>
</g>
<g font-family="'Liberation Serif','Noto Serif CJK SC',serif" font-size="5.9" fill="#2a2a2a" stroke="#2a2a2a" stroke-width="0.1" text-anchor="middle" clip-path="url(#cpd)">
<text transform="translate(67.1 375.4) rotate(40)" y="1.95" textLength="5.9" lengthAdjust="spacingAndGlyphs">40</text>
<text transform="translate(38.2 439.7) rotate(-32)" y="1.95" textLength="5.9" lengthAdjust="spacingAndGlyphs">40</text>
<text transform="translate(130.4 287.7) rotate(-12)" y="1.95" textLength="5.9" lengthAdjust="spacingAndGlyphs">40</text>
<text transform="translate(207 310.7) rotate(-56)" y="1.95" textLength="5.9" lengthAdjust="spacingAndGlyphs">40</text>
<text transform="translate(178.5 383.8) rotate(68)" y="1.95" textLength="5.9" lengthAdjust="spacingAndGlyphs">40</text>
<text transform="translate(131 423.9) rotate(-15)" y="1.95" textLength="5.9" lengthAdjust="spacingAndGlyphs">40</text>
<text transform="translate(61.9 292.9) rotate(-62)" y="1.95" textLength="5.9" lengthAdjust="spacingAndGlyphs">90</text>
</g>
<path d="M70.52 277.45C69.78 278.62 67.56 282.2 66.08 284.5C64.61 286.8 63.09 289.32 61.65 291.25C60.2 293.18 58.74 294.63 57.42 296.09C56.09 297.55 54.95 298.5 53.69 300.02C52.43 301.53 51.07 303.47 49.86 305.15C48.65 306.83 47.18 308.58 46.43 310.09C45.67 311.6 45.64 312.91 45.32 314.22C45 315.53 44.93 316.66 44.51 317.95C44.09 319.24 43.46 320.62 42.8 321.98C42.14 323.34 40.95 325.42 40.58 326.11" fill="none" stroke="#000" stroke-width="1.4" stroke-linecap="round" stroke-linejoin="round"/>
<g font-family="'Liberation Serif','Noto Serif CJK SC',serif" font-size="5.9" fill="#3c3c3c" text-anchor="middle">
<rect x="38.01" y="320.31" width="1.72" height="1.72" fill="#000"/>
<text x="38.87" y="319.19" textLength="20.65" lengthAdjust="spacingAndGlyphs">Changde</text>
<rect x="180.04" y="286.06" width="1.72" height="1.72" fill="#000"/>
<text x="180.9" y="284.94" textLength="20.65" lengthAdjust="spacingAndGlyphs">Yueyang</text>
<rect x="102.72" y="364.44" width="1.72" height="1.72" fill="#000"/>
<text x="103.58" y="363.32" textLength="17.7" lengthAdjust="spacingAndGlyphs">Yiyang</text>
<rect x="168.24" y="404.64" width="1.72" height="1.72" fill="#000"/>
<text x="169.1" y="403.52" textLength="23.6" lengthAdjust="spacingAndGlyphs">Changsha</text>
<rect x="161.89" y="437.79" width="1.72" height="1.72" fill="#000"/>
<text x="162.75" y="436.67" textLength="23.6" lengthAdjust="spacingAndGlyphs">Xiangtan</text>
<rect x="185.78" y="439.6" width="1.72" height="1.72" fill="#000"/>
<text x="186.64" y="438.48" textLength="20.65" lengthAdjust="spacingAndGlyphs">Zhuzhou</text>
<rect x="68.65" y="451.19" width="1.72" height="1.72" fill="#000"/>
<text x="69.51" y="450.07" textLength="14.75" lengthAdjust="spacingAndGlyphs">Loudi</text>
</g>
</g>
<g id="panel-e">
<rect x="245.5" y="269.2" width="208.3" height="191.9" fill="#FFDF8E"/>
<g clip-path="url(#cpe)" stroke="#A58432" stroke-opacity="0.5" stroke-width="0.36" stroke-linejoin="round">
<path d="M240.2 345.8C241.08 346.32 243.18 347.53 245.5 348.9C247.82 350.27 250.7 352.05 254.1 354C257.5 355.95 261.98 358.72 265.9 360.6C269.82 362.48 273.68 363.73 277.6 365.3C281.52 366.87 285.9 368.23 289.4 370C292.9 371.77 296.08 373.8 298.6 375.9C301.12 378 303.23 380.37 304.5 382.6C305.77 384.83 306.33 386.63 306.2 389.3C306.07 391.97 304.97 395.52 303.7 398.6C302.43 401.68 300.7 404.45 298.6 407.8C296.5 411.15 293.75 415.2 291.1 418.7C288.45 422.2 285.5 425.72 282.7 428.8C279.9 431.88 276.82 435.02 274.3 437.2C271.78 439.38 269.85 440.83 267.6 441.9C265.35 442.97 262.77 443.48 260.8 443.6C258.83 443.72 257.47 443.38 255.8 442.6C254.13 441.82 252.48 440.03 250.8 438.9C249.12 437.77 247.47 436.78 245.7 435.8C243.93 434.82 241.12 433.47 240.2 433L238.7 433C238.7 418.47 238.7 360.33 238.7 345.8Z" fill="#FFEBAA"/>
<path d="M351 264C351.03 264.87 350.98 267.48 351.2 269.2C351.42 270.92 351.7 272.27 352.3 274.3C352.9 276.33 353.87 279.45 354.8 281.4C355.73 283.35 356.78 284.97 357.9 286C359.02 287.03 360.05 287.68 361.5 287.6C362.95 287.52 364.57 286.7 366.6 285.5C368.63 284.3 371.32 282.18 373.7 280.4C376.08 278.62 378.6 276.67 380.9 274.8C383.2 272.93 385.45 271 387.5 269.2C389.55 267.4 392.25 264.87 393.2 264Z" fill="#FFEBAA"/>
<path d="M458.2 285C457.43 285.87 455.57 287.93 453.6 290.2C451.63 292.47 449 295.1 446.4 298.6C443.8 302.1 440.52 307 438 311.2C435.48 315.4 433.53 319.75 431.3 323.8C429.07 327.85 426.83 331.58 424.6 335.5C422.37 339.42 420 343.38 417.9 347.3C415.8 351.22 413.6 356.05 412 359C410.4 361.95 409.28 362.6 408.3 365C407.32 367.4 406.23 370.6 406.1 373.4C405.97 376.2 406.38 378.72 407.5 381.8C408.62 384.88 411.07 388.68 412.8 391.9C414.53 395.12 416.58 397.88 417.9 401.1C419.22 404.32 420.28 407.98 420.7 411.2C421.12 414.42 420.87 417.33 420.4 420.4C419.93 423.47 419.3 426.25 417.9 429.6C416.5 432.95 414.52 437 412 440.5C409.48 444 405.73 447.85 402.8 450.6C399.87 453.35 396.92 455.27 394.4 457C391.88 458.73 389.98 459.63 387.7 461C385.42 462.37 381.87 464.5 380.7 465.2L461.7 466C461.7 435.83 461.7 315.17 461.7 285Z" fill="#FFEBAA"/>
<path d="M368.03 423.98C368.32 424.69 368.11 425.75 367.51 426.66C366.91 427.57 365.68 428.67 364.42 429.44C363.17 430.2 361.39 430.92 359.95 431.24C358.52 431.57 356.87 431.63 355.81 431.39C354.74 431.15 353.85 430.53 353.57 429.82C353.28 429.11 353.49 428.05 354.09 427.14C354.69 426.23 355.92 425.13 357.18 424.36C358.43 423.6 360.21 422.88 361.65 422.56C363.08 422.23 364.73 422.17 365.79 422.41C366.86 422.65 367.75 423.27 368.03 423.98Z" fill="#FFEBAA"/>
<path d="M240.5 326.8C241.47 327.12 244.13 327.87 246.3 328.7C248.47 329.53 250.7 331 253.5 331.8C256.3 332.6 260.03 333.35 263.1 333.5C266.17 333.65 268.97 333.28 271.9 332.7C274.83 332.12 278.22 331.03 280.7 330C283.18 328.97 285.15 328 286.8 326.5C288.45 325 289.32 323.17 290.6 321C291.88 318.83 293.1 316 294.5 313.5C295.9 311 297.52 308.37 299 306C300.48 303.63 302.03 301.55 303.4 299.3C304.77 297.05 306.2 294.72 307.2 292.5C308.2 290.28 308.92 288.18 309.4 286C309.88 283.82 310.22 281.47 310.1 279.4C309.98 277.33 309.42 275.28 308.7 273.6C307.98 271.92 306.83 270.82 305.8 269.3C304.77 267.78 303.05 265.3 302.5 264.5L240 264.5Z" fill="#FDD57A"/>
<path d="M240.5 318C241.47 318.55 244.42 320.17 246.3 321.3C248.18 322.43 249.43 323.93 251.8 324.8C254.17 325.67 257.58 326.35 260.5 326.5C263.42 326.65 266.67 326.42 269.3 325.7C271.93 324.98 274.27 323.82 276.3 322.2C278.33 320.58 279.75 318.27 281.5 316C283.25 313.73 285.13 310.93 286.8 308.6C288.47 306.27 290.05 303.95 291.5 302C292.95 300.05 294.22 298.83 295.5 296.9C296.78 294.97 298.22 292.58 299.2 290.4C300.18 288.22 301.03 285.75 301.4 283.8C301.77 281.85 301.77 280.4 301.4 278.7C301.03 277 300.23 275.17 299.2 273.6C298.17 272.03 296.57 270.82 295.2 269.3C293.83 267.78 291.7 265.3 291 264.5L266 264.5C265.45 265.3 264.1 267.55 262.7 269.3C261.3 271.05 259.3 272.7 257.6 275C255.9 277.3 254.08 280.3 252.5 283.1C250.92 285.9 249.2 289.37 248.1 291.8C247 294.23 246.72 295.58 245.9 297.7C245.08 299.82 243.65 303.37 243.2 304.5L240 304.5Z" fill="#FDC963"/>
<path d="M282.5 264C283.22 264.88 285.12 267.7 286.8 269.3C288.48 270.9 291.27 272.03 292.6 273.6C293.93 275.17 294.48 277 294.8 278.7C295.12 280.4 294.98 281.98 294.5 283.8C294.02 285.62 292.95 287.65 291.9 289.6C290.85 291.55 289.53 293.67 288.2 295.5C286.87 297.33 285.23 298.78 283.9 300.6C282.57 302.42 281.32 304.57 280.2 306.4C279.08 308.23 278.43 309.85 277.2 311.6C275.97 313.35 274.42 315.5 272.8 316.9C271.18 318.3 269.55 319.35 267.5 320C265.45 320.65 262.83 321.03 260.5 320.8C258.17 320.57 255.53 319.68 253.5 318.6C251.47 317.52 249.5 315.9 248.3 314.3C247.1 312.7 246.45 310.8 246.3 309C246.15 307.2 246.62 305.63 247.4 303.5C248.18 301.37 249.42 299.37 251 296.2C252.58 293.03 254.83 288.03 256.9 284.5C258.97 280.97 261.03 277.53 263.4 275C265.77 272.47 269.08 271.13 271.1 269.3C273.12 267.47 274.77 264.88 275.5 264Z" fill="#FDB744"/>
<path d="M278 277.2C279.62 277.33 282.3 278.43 283.4 279.5C284.5 280.57 284.7 281.72 284.6 283.6C284.5 285.48 284.02 288.45 282.8 290.8C281.58 293.15 279.12 295.68 277.3 297.7C275.48 299.72 273.7 301.65 271.9 302.9C270.1 304.15 268.03 305.27 266.5 305.2C264.97 305.13 263.08 304.25 262.7 302.5C262.32 300.75 263.23 297.58 264.2 294.7C265.17 291.82 266.92 287.87 268.5 285.2C270.08 282.53 272.12 280.03 273.7 278.7C275.28 277.37 276.38 277.07 278 277.2Z" fill="#FBAA38"/>
</g>
<path d="M453.8 269.2H245.5M245.5 461.1H453.8" fill="none" stroke="#C6C6CC" stroke-width="0.5"/>
<path d="M245.5 269.2V461.1" fill="none" stroke="#A6A6A6" stroke-width="0.6"/>
<path d="M260.9 461.1v2.2M260.9 269.2v-2.4M281.1 461.1v2.2M281.1 269.2v-2.4M301.3 461.1v2.2M301.3 269.2v-2.4M321.5 461.1v2.2M321.5 269.2v-2.4M341.7 461.1v2.2M341.7 269.2v-2.4M361.9 461.1v2.2M361.9 269.2v-2.4M382.1 461.1v2.2M382.1 269.2v-2.4M402.3 461.1v2.2M402.3 269.2v-2.4M422.5 461.1v2.2M422.5 269.2v-2.4M442.7 461.1v2.2M442.7 269.2v-2.4M245.5 284.5h-2.5M245.5 304.65h-2.5M245.5 324.8h-2.5M245.5 344.95h-2.5M245.5 365.1h-2.5M245.5 385.25h-2.5M245.5 405.4h-2.5M245.5 425.55h-2.5M245.5 445.7h-2.5" stroke="#9E9E9E" stroke-width="0.45" fill="none"/>
<g font-family="'Liberation Serif','Noto Serif CJK SC',serif" font-size="5.9" fill="#4a4a4a" stroke="#4a4a4a" stroke-width="0.12">
<text x="260.9" y="470.01" text-anchor="middle" textLength="14.75" lengthAdjust="spacingAndGlyphs">111.6</text>
<text x="281.1" y="470.01" text-anchor="middle" textLength="14.75" lengthAdjust="spacingAndGlyphs">111.8</text>
<text x="301.3" y="470.01" text-anchor="middle" textLength="8.85" lengthAdjust="spacingAndGlyphs">112</text>
<text x="321.5" y="470.01" text-anchor="middle" textLength="14.75" lengthAdjust="spacingAndGlyphs">112.2</text>
<text x="341.7" y="470.01" text-anchor="middle" textLength="14.75" lengthAdjust="spacingAndGlyphs">112.4</text>
<text x="361.9" y="470.01" text-anchor="middle" textLength="14.75" lengthAdjust="spacingAndGlyphs">112.6</text>
<text x="382.1" y="470.01" text-anchor="middle" textLength="14.75" lengthAdjust="spacingAndGlyphs">112.8</text>
<text x="402.3" y="470.01" text-anchor="middle" textLength="8.85" lengthAdjust="spacingAndGlyphs">113</text>
<text x="422.5" y="470.01" text-anchor="middle" textLength="14.75" lengthAdjust="spacingAndGlyphs">113.2</text>
<text x="442.7" y="470.01" text-anchor="middle" textLength="14.75" lengthAdjust="spacingAndGlyphs">113.4</text>
<text x="242.5" y="287.11" text-anchor="end" textLength="11.8" lengthAdjust="spacingAndGlyphs">29.4</text>
<text x="242.5" y="307.26" text-anchor="end" textLength="11.8" lengthAdjust="spacingAndGlyphs">29.2</text>
<text x="242.5" y="327.41" text-anchor="end" textLength="5.9" lengthAdjust="spacingAndGlyphs">29</text>
<text x="242.5" y="347.56" text-anchor="end" textLength="11.8" lengthAdjust="spacingAndGlyphs">28.8</text>
<text x="242.5" y="367.71" text-anchor="end" textLength="11.8" lengthAdjust="spacingAndGlyphs">28.6</text>
<text x="242.5" y="387.86" text-anchor="end" textLength="11.8" lengthAdjust="spacingAndGlyphs">28.4</text>
<text x="242.5" y="408.01" text-anchor="end" textLength="11.8" lengthAdjust="spacingAndGlyphs">28.2</text>
<text x="242.5" y="428.16" text-anchor="end" textLength="5.9" lengthAdjust="spacingAndGlyphs">28</text>
<text x="242.5" y="448.31" text-anchor="end" textLength="11.8" lengthAdjust="spacingAndGlyphs">27.8</text>
</g>
<g font-family="'Liberation Serif','Noto Serif CJK SC',serif" font-size="5.9" fill="#2a2a2a" stroke="#2a2a2a" stroke-width="0.1" text-anchor="middle" clip-path="url(#cpe)">
<text transform="translate(297.8 375.4) rotate(40)" y="1.95" textLength="5.9" lengthAdjust="spacingAndGlyphs">40</text>
<text transform="translate(268.9 439.7) rotate(-32)" y="1.95" textLength="5.9" lengthAdjust="spacingAndGlyphs">40</text>
<text transform="translate(437.7 310.7) rotate(-56)" y="1.95" textLength="5.9" lengthAdjust="spacingAndGlyphs">40</text>
<text transform="translate(409.2 383.8) rotate(68)" y="1.95" textLength="5.9" lengthAdjust="spacingAndGlyphs">40</text>
<text transform="translate(361.7 423.9) rotate(-15)" y="1.95" textLength="5.9" lengthAdjust="spacingAndGlyphs">40</text>
<text transform="translate(280.9 292.5) rotate(-62)" y="1.95" textLength="8.85" lengthAdjust="spacingAndGlyphs">280</text>
<text transform="translate(290.8 292.9) rotate(-62)" y="1.95" textLength="8.85" lengthAdjust="spacingAndGlyphs">190</text>
<text transform="translate(297 293.3) rotate(-62)" y="1.95" textLength="8.85" lengthAdjust="spacingAndGlyphs">140</text>
<text transform="translate(306.5 292.5) rotate(-66)" y="1.95" textLength="5.9" lengthAdjust="spacingAndGlyphs">90</text>
</g>
<path d="M301.3 277.45C300.56 278.62 298.34 282.2 296.86 284.5C295.37 286.8 293.86 289.32 292.41 291.25C290.96 293.18 289.5 294.63 288.17 296.09C286.84 297.55 285.7 298.5 284.43 300.02C283.17 301.53 281.81 303.47 280.6 305.15C279.38 306.83 277.92 308.58 277.16 310.09C276.4 311.6 276.37 312.91 276.05 314.22C275.73 315.53 275.66 316.66 275.24 317.95C274.82 319.24 274.18 320.62 273.52 321.98C272.87 323.34 271.67 325.42 271.3 326.11" fill="none" stroke="#000" stroke-width="1.4" stroke-linecap="round" stroke-linejoin="round"/>
<g font-family="'Liberation Serif','Noto Serif CJK SC',serif" font-size="5.9" fill="#3c3c3c" text-anchor="middle">
<rect x="268.73" y="320.31" width="1.72" height="1.72" fill="#000"/>
<text x="269.59" y="319.19" textLength="20.65" lengthAdjust="spacingAndGlyphs">Changde</text>
<rect x="411.04" y="286.06" width="1.72" height="1.72" fill="#000"/>
<text x="411.9" y="284.94" textLength="20.65" lengthAdjust="spacingAndGlyphs">Yueyang</text>
<rect x="333.57" y="364.44" width="1.72" height="1.72" fill="#000"/>
<text x="334.43" y="363.32" textLength="17.7" lengthAdjust="spacingAndGlyphs">Yiyang</text>
<rect x="399.22" y="404.64" width="1.72" height="1.72" fill="#000"/>
<text x="400.08" y="403.52" textLength="23.6" lengthAdjust="spacingAndGlyphs">Changsha</text>
<rect x="392.86" y="437.79" width="1.72" height="1.72" fill="#000"/>
<text x="393.72" y="436.67" textLength="23.6" lengthAdjust="spacingAndGlyphs">Xiangtan</text>
<rect x="416.79" y="439.6" width="1.72" height="1.72" fill="#000"/>
<text x="417.65" y="438.48" textLength="20.65" lengthAdjust="spacingAndGlyphs">Zhuzhou</text>
<rect x="299.43" y="451.19" width="1.72" height="1.72" fill="#000"/>
<text x="300.29" y="450.07" textLength="14.75" lengthAdjust="spacingAndGlyphs">Loudi</text>
</g>
</g>
<g id="panel-f">
<rect x="476.3" y="269.2" width="209.2" height="191.9" fill="#FFDF8E"/>
<g clip-path="url(#cpf)" stroke="#A58432" stroke-opacity="0.5" stroke-width="0.36" stroke-linejoin="round">
<path d="M471 345.8C471.88 346.32 473.98 347.53 476.3 348.9C478.62 350.27 481.5 352.05 484.9 354C488.3 355.95 492.78 358.72 496.7 360.6C500.62 362.48 504.48 363.73 508.4 365.3C512.32 366.87 516.7 368.23 520.2 370C523.7 371.77 526.88 373.8 529.4 375.9C531.92 378 534.03 380.37 535.3 382.6C536.57 384.83 537.13 386.63 537 389.3C536.87 391.97 535.77 395.52 534.5 398.6C533.23 401.68 531.5 404.45 529.4 407.8C527.3 411.15 524.55 415.2 521.9 418.7C519.25 422.2 516.3 425.72 513.5 428.8C510.7 431.88 507.62 435.02 505.1 437.2C502.58 439.38 500.65 440.83 498.4 441.9C496.15 442.97 493.57 443.48 491.6 443.6C489.63 443.72 488.27 443.38 486.6 442.6C484.93 441.82 483.28 440.03 481.6 438.9C479.92 437.77 478.27 436.78 476.5 435.8C474.73 434.82 471.92 433.47 471 433L469.5 433C469.5 418.47 469.5 360.33 469.5 345.8Z" fill="#FFEBAA"/>
<path d="M581.8 264C581.83 264.87 581.78 267.48 582 269.2C582.22 270.92 582.5 272.27 583.1 274.3C583.7 276.33 584.67 279.45 585.6 281.4C586.53 283.35 587.58 284.97 588.7 286C589.82 287.03 590.85 287.68 592.3 287.6C593.75 287.52 595.37 286.7 597.4 285.5C599.43 284.3 602.12 282.18 604.5 280.4C606.88 278.62 609.4 276.67 611.7 274.8C614 272.93 616.25 271 618.3 269.2C620.35 267.4 623.05 264.87 624 264Z" fill="#FFEBAA"/>
<path d="M689 285C688.23 285.87 686.37 287.93 684.4 290.2C682.43 292.47 679.8 295.1 677.2 298.6C674.6 302.1 671.32 307 668.8 311.2C666.28 315.4 664.33 319.75 662.1 323.8C659.87 327.85 657.63 331.58 655.4 335.5C653.17 339.42 650.8 343.38 648.7 347.3C646.6 351.22 644.4 356.05 642.8 359C641.2 361.95 640.08 362.6 639.1 365C638.12 367.4 637.03 370.6 636.9 373.4C636.77 376.2 637.18 378.72 638.3 381.8C639.42 384.88 641.87 388.68 643.6 391.9C645.33 395.12 647.38 397.88 648.7 401.1C650.02 404.32 651.08 407.98 651.5 411.2C651.92 414.42 651.67 417.33 651.2 420.4C650.73 423.47 650.1 426.25 648.7 429.6C647.3 432.95 645.32 437 642.8 440.5C640.28 444 636.53 447.85 633.6 450.6C630.67 453.35 627.72 455.27 625.2 457C622.68 458.73 620.78 459.63 618.5 461C616.22 462.37 612.67 464.5 611.5 465.2L692.5 466C692.5 435.83 692.5 315.17 692.5 285Z" fill="#FFEBAA"/>
<path d="M598.83 423.98C599.12 424.69 598.91 425.75 598.31 426.66C597.71 427.57 596.48 428.67 595.22 429.44C593.97 430.2 592.19 430.92 590.75 431.24C589.32 431.57 587.67 431.63 586.61 431.39C585.54 431.15 584.65 430.53 584.37 429.82C584.08 429.11 584.29 428.05 584.89 427.14C585.49 426.23 586.72 425.13 587.98 424.36C589.23 423.6 591.01 422.88 592.45 422.56C593.88 422.23 595.53 422.17 596.59 422.41C597.66 422.65 598.55 423.27 598.83 423.98Z" fill="#FFEBAA"/>
<path d="M471.5 322.5C472.47 322.88 475.42 323.77 477.3 324.8C479.18 325.83 480.43 327.47 482.8 328.7C485.17 329.93 488.58 331.47 491.5 332.2C494.42 332.93 497.38 333.25 500.3 333.1C503.22 332.95 506.38 332.1 509 331.3C511.62 330.5 514.07 329.68 516 328.3C517.93 326.92 519.27 325 520.6 323C521.93 321 522.95 318.2 524 316.3C525.05 314.4 525.87 313.37 526.9 311.6C527.93 309.83 528.92 307.78 530.2 305.7C531.48 303.62 533.27 301.3 534.6 299.1C535.93 296.9 537.23 294.68 538.2 292.5C539.17 290.32 539.92 288.18 540.4 286C540.88 283.82 541.22 281.47 541.1 279.4C540.98 277.33 540.42 275.28 539.7 273.6C538.98 271.92 537.83 270.82 536.8 269.3C535.77 267.78 534.05 265.3 533.5 264.5L471 264.5Z" fill="#FDD57A"/>
<path d="M471.5 310.5C472.47 311.42 475.57 314.2 477.3 316C479.03 317.8 479.97 319.83 481.9 321.3C483.83 322.77 486.42 324 488.9 324.8C491.38 325.6 494.17 326.18 496.8 326.1C499.43 326.02 502.52 325.25 504.7 324.3C506.88 323.35 508.45 321.93 509.9 320.4C511.35 318.87 512.08 317 513.4 315.1C514.72 313.2 516.4 310.93 517.8 309C519.2 307.07 520.4 305.38 521.8 303.5C523.2 301.62 524.87 299.77 526.2 297.7C527.53 295.63 528.83 293.3 529.8 291.1C530.77 288.9 531.57 286.45 532 284.5C532.43 282.55 532.58 281.1 532.4 279.4C532.22 277.7 531.93 275.98 530.9 274.3C529.87 272.62 527.68 270.93 526.2 269.3C524.72 267.67 522.7 265.3 522 264.5L499.8 264.5C499.27 265.3 498.35 267.55 496.6 269.3C494.85 271.05 491.6 272.7 489.3 275C487 277.3 484.62 280.42 482.8 283.1C480.98 285.78 479.4 288.92 478.4 291.1C477.4 293.28 477.48 294.3 476.8 296.2C476.12 298.1 474.72 301.45 474.3 302.5L471 302.5Z" fill="#FDC963"/>
<path d="M513.3 264C514.02 264.88 515.88 267.58 517.6 269.3C519.32 271.02 522.23 272.62 523.6 274.3C524.97 275.98 525.55 277.7 525.8 279.4C526.05 281.1 525.7 282.55 525.1 284.5C524.5 286.45 523.42 289.03 522.2 291.1C520.98 293.17 519.27 295.08 517.8 296.9C516.33 298.72 514.73 300.17 513.4 302C512.07 303.83 510.82 306.13 509.8 307.9C508.78 309.67 508.3 311.1 507.3 312.6C506.3 314.1 505.42 315.67 503.8 316.9C502.18 318.13 499.8 319.63 497.6 320C495.4 320.37 492.78 319.92 490.6 319.1C488.42 318.28 486.17 316.53 484.5 315.1C482.83 313.67 481.55 312.18 480.6 310.5C479.65 308.82 479.02 306.92 478.8 305C478.58 303.08 478.77 301.08 479.3 299C479.83 296.92 480.57 295.15 482 292.5C483.43 289.85 485.58 286.13 487.9 283.1C490.22 280.07 493.23 276.6 495.9 274.3C498.57 272 501.83 271.02 503.9 269.3C505.97 267.58 507.57 264.88 508.3 264Z" fill="#FDB744"/>
<path d="M510.5 279.4C512.43 279.4 513.88 280.6 514.8 281.6C515.72 282.6 515.98 283.7 516 285.4C516.02 287.1 516.07 289.4 514.9 291.8C513.73 294.2 511.2 297.25 509 299.8C506.8 302.35 504 305.38 501.7 307.1C499.4 308.82 497.13 310.1 495.2 310.1C493.27 310.1 491.27 308.57 490.1 307.1C488.93 305.63 488.08 303.37 488.2 301.3C488.32 299.23 489.4 297.02 490.8 294.7C492.2 292.38 494.53 289.58 496.6 287.4C498.67 285.22 500.88 282.93 503.2 281.6C505.52 280.27 508.57 279.4 510.5 279.4Z" fill="#FBAA38"/>
</g>
<path d="M685.5 269.2H476.3M476.3 461.1H685.5" fill="none" stroke="#C6C6CC" stroke-width="0.5"/>
<path d="M476.3 269.2V461.1" fill="none" stroke="#A6A6A6" stroke-width="0.6"/>
<path d="M491.4 461.1v2.2M491.4 269.2v-2.4M511.6 461.1v2.2M511.6 269.2v-2.4M531.8 461.1v2.2M531.8 269.2v-2.4M552 461.1v2.2M552 269.2v-2.4M572.2 461.1v2.2M572.2 269.2v-2.4M592.4 461.1v2.2M592.4 269.2v-2.4M612.6 461.1v2.2M612.6 269.2v-2.4M632.8 461.1v2.2M632.8 269.2v-2.4M653 461.1v2.2M653 269.2v-2.4M673.2 461.1v2.2M673.2 269.2v-2.4M476.3 284.5h-2.5M476.3 304.65h-2.5M476.3 324.8h-2.5M476.3 344.95h-2.5M476.3 365.1h-2.5M476.3 385.25h-2.5M476.3 405.4h-2.5M476.3 425.55h-2.5M476.3 445.7h-2.5" stroke="#9E9E9E" stroke-width="0.45" fill="none"/>
<g font-family="'Liberation Serif','Noto Serif CJK SC',serif" font-size="5.9" fill="#4a4a4a" stroke="#4a4a4a" stroke-width="0.12">
<text x="491.4" y="470.01" text-anchor="middle" textLength="14.75" lengthAdjust="spacingAndGlyphs">111.6</text>
<text x="511.6" y="470.01" text-anchor="middle" textLength="14.75" lengthAdjust="spacingAndGlyphs">111.8</text>
<text x="531.8" y="470.01" text-anchor="middle" textLength="8.85" lengthAdjust="spacingAndGlyphs">112</text>
<text x="552" y="470.01" text-anchor="middle" textLength="14.75" lengthAdjust="spacingAndGlyphs">112.2</text>
<text x="572.2" y="470.01" text-anchor="middle" textLength="14.75" lengthAdjust="spacingAndGlyphs">112.4</text>
<text x="592.4" y="470.01" text-anchor="middle" textLength="14.75" lengthAdjust="spacingAndGlyphs">112.6</text>
<text x="612.6" y="470.01" text-anchor="middle" textLength="14.75" lengthAdjust="spacingAndGlyphs">112.8</text>
<text x="632.8" y="470.01" text-anchor="middle" textLength="8.85" lengthAdjust="spacingAndGlyphs">113</text>
<text x="653" y="470.01" text-anchor="middle" textLength="14.75" lengthAdjust="spacingAndGlyphs">113.2</text>
<text x="673.2" y="470.01" text-anchor="middle" textLength="14.75" lengthAdjust="spacingAndGlyphs">113.4</text>
<text x="473.3" y="287.11" text-anchor="end" textLength="11.8" lengthAdjust="spacingAndGlyphs">29.4</text>
<text x="473.3" y="307.26" text-anchor="end" textLength="11.8" lengthAdjust="spacingAndGlyphs">29.2</text>
<text x="473.3" y="327.41" text-anchor="end" textLength="5.9" lengthAdjust="spacingAndGlyphs">29</text>
<text x="473.3" y="347.56" text-anchor="end" textLength="11.8" lengthAdjust="spacingAndGlyphs">28.8</text>
<text x="473.3" y="367.71" text-anchor="end" textLength="11.8" lengthAdjust="spacingAndGlyphs">28.6</text>
<text x="473.3" y="387.86" text-anchor="end" textLength="11.8" lengthAdjust="spacingAndGlyphs">28.4</text>
<text x="473.3" y="408.01" text-anchor="end" textLength="11.8" lengthAdjust="spacingAndGlyphs">28.2</text>
<text x="473.3" y="428.16" text-anchor="end" textLength="5.9" lengthAdjust="spacingAndGlyphs">28</text>
<text x="473.3" y="448.31" text-anchor="end" textLength="11.8" lengthAdjust="spacingAndGlyphs">27.8</text>
</g>
<g font-family="'Liberation Serif','Noto Serif CJK SC',serif" font-size="5.9" fill="#2a2a2a" stroke="#2a2a2a" stroke-width="0.1" text-anchor="middle" clip-path="url(#cpf)">
<text transform="translate(528.6 375.4) rotate(40)" y="1.95" textLength="5.9" lengthAdjust="spacingAndGlyphs">40</text>
<text transform="translate(499.7 439.7) rotate(-32)" y="1.95" textLength="5.9" lengthAdjust="spacingAndGlyphs">40</text>
<text transform="translate(668.5 310.7) rotate(-56)" y="1.95" textLength="5.9" lengthAdjust="spacingAndGlyphs">40</text>
<text transform="translate(640 383.8) rotate(68)" y="1.95" textLength="5.9" lengthAdjust="spacingAndGlyphs">40</text>
<text transform="translate(592.5 423.9) rotate(-15)" y="1.95" textLength="5.9" lengthAdjust="spacingAndGlyphs">40</text>
<text transform="translate(511.9 292.5) rotate(-62)" y="1.95" textLength="8.85" lengthAdjust="spacingAndGlyphs">280</text>
<text transform="translate(521.8 292.9) rotate(-62)" y="1.95" textLength="8.85" lengthAdjust="spacingAndGlyphs">190</text>
<text transform="translate(528 293.3) rotate(-62)" y="1.95" textLength="8.85" lengthAdjust="spacingAndGlyphs">140</text>
<text transform="translate(537.5 292.5) rotate(-66)" y="1.95" textLength="5.9" lengthAdjust="spacingAndGlyphs">90</text>
</g>
<path d="M531.8 277.45C531.06 278.62 528.84 282.2 527.36 284.5C525.87 286.8 524.36 289.32 522.91 291.25C521.46 293.18 520 294.63 518.67 296.09C517.34 297.55 516.2 298.5 514.93 300.02C513.67 301.53 512.31 303.47 511.1 305.15C509.88 306.83 508.42 308.58 507.66 310.09C506.9 311.6 506.87 312.91 506.55 314.22C506.23 315.53 506.16 316.66 505.74 317.95C505.32 319.24 504.68 320.62 504.02 321.98C503.37 323.34 502.17 325.42 501.8 326.11" fill="none" stroke="#000" stroke-width="1.4" stroke-linecap="round" stroke-linejoin="round"/>
<g font-family="'Liberation Serif','Noto Serif CJK SC',serif" font-size="5.9" fill="#3c3c3c" text-anchor="middle">
<rect x="499.23" y="320.31" width="1.72" height="1.72" fill="#000"/>
<text x="500.09" y="319.19" textLength="20.65" lengthAdjust="spacingAndGlyphs">Changde</text>
<rect x="641.54" y="286.06" width="1.72" height="1.72" fill="#000"/>
<text x="642.4" y="284.94" textLength="20.65" lengthAdjust="spacingAndGlyphs">Yueyang</text>
<rect x="564.07" y="364.44" width="1.72" height="1.72" fill="#000"/>
<text x="564.93" y="363.32" textLength="17.7" lengthAdjust="spacingAndGlyphs">Yiyang</text>
<rect x="629.72" y="404.64" width="1.72" height="1.72" fill="#000"/>
<text x="630.58" y="403.52" textLength="23.6" lengthAdjust="spacingAndGlyphs">Changsha</text>
<rect x="623.36" y="437.79" width="1.72" height="1.72" fill="#000"/>
<text x="624.22" y="436.67" textLength="23.6" lengthAdjust="spacingAndGlyphs">Xiangtan</text>
<rect x="647.29" y="439.6" width="1.72" height="1.72" fill="#000"/>
<text x="648.15" y="438.48" textLength="20.65" lengthAdjust="spacingAndGlyphs">Zhuzhou</text>
<rect x="529.93" y="451.19" width="1.72" height="1.72" fill="#000"/>
<text x="530.79" y="450.07" textLength="14.75" lengthAdjust="spacingAndGlyphs">Loudi</text>
</g>
</g>
<g id="panel-g">
<rect x="14.8" y="535.5" width="208.2" height="192" fill="#FFDF8E"/>
<g clip-path="url(#cpg)" stroke="#A58432" stroke-opacity="0.5" stroke-width="0.36" stroke-linejoin="round">
<path d="M9.5 613.6C10.4 613.77 11.93 613.93 14.9 614.6C17.87 615.27 22.67 616.63 27.3 617.6C31.93 618.57 38.1 619.52 42.7 620.4C47.3 621.28 51.17 621.8 54.9 622.9C58.63 624 62.03 625.63 65.1 627C68.17 628.37 70.17 629.45 73.3 631.1C76.43 632.75 80.47 634.68 83.9 636.9C87.33 639.12 90.55 641.88 93.9 644.4C97.25 646.92 100.63 649.75 104 652C107.37 654.25 110.6 655.95 114.1 657.9C117.6 659.85 121.22 661.75 125 663.7C128.78 665.65 132.87 667.78 136.8 669.6C140.73 671.42 144.97 673.07 148.6 674.6C152.23 676.13 155.8 677.73 158.6 678.8C161.4 679.87 163.43 680.65 165.4 681C167.37 681.35 168.87 681.4 170.4 680.9C171.93 680.4 173.77 679.32 174.6 678C175.43 676.68 175.82 674.95 175.4 673C174.98 671.05 173.63 668.82 172.1 666.3C170.57 663.78 168.02 660.98 166.2 657.9C164.38 654.82 162.32 650.88 161.2 647.8C160.08 644.72 159.32 642.2 159.5 639.4C159.68 636.6 160.48 634.52 162.3 631C164.12 627.48 167.65 623.22 170.4 618.3C173.15 613.38 176 607.1 178.8 601.5C181.6 595.9 184.4 589.73 187.2 584.7C190 579.67 192.53 575.77 195.6 571.3C198.67 566.83 202.25 562.38 205.6 557.9C208.95 553.42 212.87 548.08 215.7 544.4C218.53 540.72 220.63 538.23 222.6 535.8C224.57 533.37 226.68 530.8 227.5 529.8L179.5 530L179.5 530C178.68 530.92 176.68 533.37 174.6 535.5C172.52 537.63 169.93 539.77 167 542.8C164.07 545.83 160.35 549.78 157 553.7C153.65 557.62 150.27 561.97 146.9 566.3C143.53 570.63 139.78 575.12 136.8 579.7C133.82 584.28 131.4 590.35 129 593.8C126.6 597.25 124.7 598.77 122.4 600.4C120.1 602.03 117.6 603 115.2 603.6C112.8 604.2 110.38 604.43 108 604C105.62 603.57 103.02 602.45 100.9 601C98.78 599.55 96.6 597.43 95.3 595.3C94 593.17 93.45 590.58 93.1 588.2C92.75 585.82 92.75 583.73 93.2 581C93.65 578.27 94.77 575.2 95.8 571.8C96.83 568.4 98.3 564.52 99.4 560.6C100.5 556.68 101.63 552.47 102.4 548.3C103.17 544.13 103.65 538.65 104 535.6C104.35 532.55 104.42 530.93 104.5 530L8 530C8 543.93 8 599.67 8 613.6Z" fill="#FDD57A"/>
<path d="M102.5 732.5C103.32 731.67 105.47 729.45 107.4 727.5C109.33 725.55 111.17 722.88 114.1 720.8C117.03 718.72 121.22 716.87 125 715C128.78 713.13 132.87 711.15 136.8 709.6C140.73 708.05 144.97 706.72 148.6 705.7C152.23 704.68 155.67 703.78 158.6 703.5C161.53 703.22 164.37 703.5 166.2 704C168.03 704.5 169.32 705.38 169.6 706.5C169.88 707.62 169.17 709.15 167.9 710.7C166.63 712.25 164.38 713.97 162 715.8C159.62 717.63 156.4 719.88 153.6 721.7C150.8 723.52 148.05 724.98 145.2 726.7C142.35 728.42 137.95 731.12 136.5 732Z" fill="#FDD57A"/>
<path d="M9.5 593C10.37 593.43 12.38 594.32 14.7 595.6C17.02 596.88 19.98 599.38 23.4 600.7C26.82 602.02 31 603.08 35.2 603.5C39.4 603.92 44.4 603.82 48.6 603.2C52.8 602.58 57.47 601.2 60.4 599.8C63.33 598.4 64.67 597.03 66.2 594.8C67.73 592.57 68.47 589.48 69.6 586.4C70.73 583.32 71.6 579.93 73 576.3C74.4 572.67 76.47 568.52 78 564.6C79.53 560.68 81.13 556.45 82.2 552.8C83.27 549.15 84.12 545.58 84.4 542.7C84.68 539.82 84.08 537.62 83.9 535.5C83.72 533.38 83.4 530.92 83.3 530L19.8 530C19.57 530.92 19.25 532.25 18.4 535.5C17.55 538.75 15.55 546.33 14.7 549.5C13.85 552.67 13.53 553.67 13.3 554.5L8 554.5Z" fill="#FDC963"/>
<path d="M67.8 530.5C68.1 531.33 68.83 533.18 69.6 535.5C70.37 537.82 72.12 541.23 72.4 544.4C72.68 547.57 72.18 551.13 71.3 554.5C70.42 557.87 68.92 560.97 67.1 564.6C65.28 568.23 62.92 572.67 60.4 576.3C57.88 579.93 54.8 583.88 52 586.4C49.2 588.92 46.4 590.57 43.6 591.4C40.8 592.23 38 592.1 35.2 591.4C32.4 590.7 29.18 589.15 26.8 587.2C24.42 585.25 22.17 582.63 20.9 579.7C19.63 576.77 19.05 572.97 19.2 569.6C19.35 566.23 20.25 563.13 21.8 559.5C23.35 555.87 26.27 551.15 28.5 547.8C30.73 544.45 33.38 541.45 35.2 539.4C37.02 537.35 37.85 536.98 39.4 535.5C40.95 534.02 43.65 531.33 44.5 530.5Z" fill="#FDB744"/>
</g>
<path d="M223 535.5H14.8M14.8 727.5H223" fill="none" stroke="#C6C6CC" stroke-width="0.5"/>
<path d="M14.8 535.5V727.5" fill="none" stroke="#A6A6A6" stroke-width="0.6"/>
<path d="M30.2 727.5v2.2M30.2 535.5v-2.4M50.36 727.5v2.2M50.36 535.5v-2.4M70.52 727.5v2.2M70.52 535.5v-2.4M90.68 727.5v2.2M90.68 535.5v-2.4M110.84 727.5v2.2M110.84 535.5v-2.4M131 727.5v2.2M131 535.5v-2.4M151.16 727.5v2.2M151.16 535.5v-2.4M171.32 727.5v2.2M171.32 535.5v-2.4M191.48 727.5v2.2M191.48 535.5v-2.4M211.64 727.5v2.2M211.64 535.5v-2.4M14.8 550.8h-2.5M14.8 570.95h-2.5M14.8 591.1h-2.5M14.8 611.25h-2.5M14.8 631.4h-2.5M14.8 651.55h-2.5M14.8 671.7h-2.5M14.8 691.85h-2.5M14.8 712h-2.5" stroke="#9E9E9E" stroke-width="0.45" fill="none"/>
<g font-family="'Liberation Serif','Noto Serif CJK SC',serif" font-size="5.9" fill="#4a4a4a" stroke="#4a4a4a" stroke-width="0.12">
<text x="30.2" y="736.61" text-anchor="middle" textLength="14.75" lengthAdjust="spacingAndGlyphs">111.6</text>
<text x="50.36" y="736.61" text-anchor="middle" textLength="14.75" lengthAdjust="spacingAndGlyphs">111.8</text>
<text x="70.52" y="736.61" text-anchor="middle" textLength="8.85" lengthAdjust="spacingAndGlyphs">112</text>
<text x="90.68" y="736.61" text-anchor="middle" textLength="14.75" lengthAdjust="spacingAndGlyphs">112.2</text>
<text x="110.84" y="736.61" text-anchor="middle" textLength="14.75" lengthAdjust="spacingAndGlyphs">112.4</text>
<text x="131" y="736.61" text-anchor="middle" textLength="14.75" lengthAdjust="spacingAndGlyphs">112.6</text>
<text x="151.16" y="736.61" text-anchor="middle" textLength="14.75" lengthAdjust="spacingAndGlyphs">112.8</text>
<text x="171.32" y="736.61" text-anchor="middle" textLength="8.85" lengthAdjust="spacingAndGlyphs">113</text>
<text x="191.48" y="736.61" text-anchor="middle" textLength="14.75" lengthAdjust="spacingAndGlyphs">113.2</text>
<text x="211.64" y="736.61" text-anchor="middle" textLength="14.75" lengthAdjust="spacingAndGlyphs">113.4</text>
<text x="11.8" y="553.41" text-anchor="end" textLength="11.8" lengthAdjust="spacingAndGlyphs">29.4</text>
<text x="11.8" y="573.56" text-anchor="end" textLength="11.8" lengthAdjust="spacingAndGlyphs">29.2</text>
<text x="11.8" y="593.71" text-anchor="end" textLength="5.9" lengthAdjust="spacingAndGlyphs">29</text>
<text x="11.8" y="613.86" text-anchor="end" textLength="11.8" lengthAdjust="spacingAndGlyphs">28.8</text>
<text x="11.8" y="634.01" text-anchor="end" textLength="11.8" lengthAdjust="spacingAndGlyphs">28.6</text>
<text x="11.8" y="654.16" text-anchor="end" textLength="11.8" lengthAdjust="spacingAndGlyphs">28.4</text>
<text x="11.8" y="674.31" text-anchor="end" textLength="11.8" lengthAdjust="spacingAndGlyphs">28.2</text>
<text x="11.8" y="694.46" text-anchor="end" textLength="5.9" lengthAdjust="spacingAndGlyphs">28</text>
<text x="11.8" y="714.61" text-anchor="end" textLength="11.8" lengthAdjust="spacingAndGlyphs">27.8</text>
</g>
<g font-family="'Liberation Serif','Noto Serif CJK SC',serif" font-size="5.9" fill="#2a2a2a" stroke="#2a2a2a" stroke-width="0.1" text-anchor="middle" clip-path="url(#cpg)">
<text transform="translate(100.4 559.1) rotate(-80)" y="1.95" textLength="5.9" lengthAdjust="spacingAndGlyphs">90</text>
<text transform="translate(129.3 591.8) rotate(-50)" y="1.95" textLength="5.9" lengthAdjust="spacingAndGlyphs">90</text>
<text transform="translate(205.1 557.5) rotate(-55)" y="1.95" textLength="5.9" lengthAdjust="spacingAndGlyphs">90</text>
<text transform="translate(163.9 627) rotate(-62)" y="1.95" textLength="5.9" lengthAdjust="spacingAndGlyphs">90</text>
<text transform="translate(83.5 635.7) rotate(35)" y="1.95" textLength="5.9" lengthAdjust="spacingAndGlyphs">90</text>
<text transform="translate(153.3 676.3) rotate(20)" y="1.95" textLength="5.9" lengthAdjust="spacingAndGlyphs">90</text>
<text transform="translate(143.2 707.9) rotate(-20)" y="1.95" textLength="5.9" lengthAdjust="spacingAndGlyphs">90</text>
<text transform="translate(68.8 559.9) rotate(-72)" y="1.95" textLength="8.85" lengthAdjust="spacingAndGlyphs">190</text>
<text transform="translate(80.2 559.9) rotate(-70)" y="1.95" textLength="8.85" lengthAdjust="spacingAndGlyphs">140</text>
</g>
<path d="M70.52 543.75C69.78 544.92 67.56 548.5 66.08 550.8C64.61 553.1 63.09 555.62 61.65 557.55C60.2 559.48 58.74 560.93 57.42 562.39C56.09 563.85 54.95 564.8 53.69 566.32C52.43 567.83 51.07 569.77 49.86 571.45C48.65 573.13 47.18 574.88 46.43 576.39C45.67 577.9 45.64 579.21 45.32 580.52C45 581.83 44.93 582.96 44.51 584.25C44.09 585.54 43.46 586.92 42.8 588.28C42.14 589.64 40.95 591.72 40.58 592.41" fill="none" stroke="#000" stroke-width="1.4" stroke-linecap="round" stroke-linejoin="round"/>
<g font-family="'Liberation Serif','Noto Serif CJK SC',serif" font-size="5.9" fill="#3c3c3c" text-anchor="middle">
<rect x="38.01" y="586.61" width="1.72" height="1.72" fill="#000"/>
<text x="38.87" y="585.49" textLength="20.65" lengthAdjust="spacingAndGlyphs">Changde</text>
<rect x="180.04" y="552.36" width="1.72" height="1.72" fill="#000"/>
<text x="180.9" y="551.24" textLength="20.65" lengthAdjust="spacingAndGlyphs">Yueyang</text>
<rect x="102.72" y="630.74" width="1.72" height="1.72" fill="#000"/>
<text x="103.58" y="629.62" textLength="17.7" lengthAdjust="spacingAndGlyphs">Yiyang</text>
<rect x="168.24" y="670.94" width="1.72" height="1.72" fill="#000"/>
<text x="169.1" y="669.82" textLength="23.6" lengthAdjust="spacingAndGlyphs">Changsha</text>
<rect x="161.89" y="704.09" width="1.72" height="1.72" fill="#000"/>
<text x="162.75" y="702.97" textLength="23.6" lengthAdjust="spacingAndGlyphs">Xiangtan</text>
<rect x="185.78" y="705.9" width="1.72" height="1.72" fill="#000"/>
<text x="186.64" y="704.78" textLength="20.65" lengthAdjust="spacingAndGlyphs">Zhuzhou</text>
<rect x="68.65" y="717.49" width="1.72" height="1.72" fill="#000"/>
<text x="69.51" y="716.37" textLength="14.75" lengthAdjust="spacingAndGlyphs">Loudi</text>
</g>
</g>
<g id="panel-h">
<rect x="245.5" y="535.5" width="208.3" height="192" fill="#FFDF8E"/>
<g clip-path="url(#cph)" stroke="#A58432" stroke-opacity="0.5" stroke-width="0.36" stroke-linejoin="round">
<path d="M240.2 617.8C241.15 618.05 243.38 618.62 245.9 619.3C248.42 619.98 251.53 621.22 255.3 621.9C259.07 622.58 263.73 622.97 268.5 623.4C273.27 623.83 279.98 623.98 283.9 624.5C287.82 625.02 289.28 625.57 292 626.5C294.72 627.43 297.47 628.92 300.2 630.1C302.93 631.28 305.9 632.42 308.4 633.6C310.9 634.78 312.5 635.4 315.2 637.2C317.9 639 321.35 641.93 324.6 644.4C327.85 646.87 331.33 649.75 334.7 652C338.07 654.25 341.3 655.95 344.8 657.9C348.3 659.85 351.92 661.75 355.7 663.7C359.48 665.65 363.57 667.78 367.5 669.6C371.43 671.42 375.67 673.07 379.3 674.6C382.93 676.13 386.5 677.73 389.3 678.8C392.1 679.87 394.13 680.65 396.1 681C398.07 681.35 399.57 681.4 401.1 680.9C402.63 680.4 404.47 679.32 405.3 678C406.13 676.68 406.52 674.95 406.1 673C405.68 671.05 404.33 668.82 402.8 666.3C401.27 663.78 398.72 660.98 396.9 657.9C395.08 654.82 393.02 650.88 391.9 647.8C390.78 644.72 390.02 642.2 390.2 639.4C390.38 636.6 391.18 634.52 393 631C394.82 627.48 398.35 623.22 401.1 618.3C403.85 613.38 406.7 607.1 409.5 601.5C412.3 595.9 415.1 589.73 417.9 584.7C420.7 579.67 423.23 575.77 426.3 571.3C429.37 566.83 432.95 562.38 436.3 557.9C439.65 553.42 443.57 548.08 446.4 544.4C449.23 540.72 451.33 538.23 453.3 535.8C455.27 533.37 457.38 530.8 458.2 529.8L410.2 530L410.2 530C409.38 530.92 407.38 533.37 405.3 535.5C403.22 537.63 400.63 539.77 397.7 542.8C394.77 545.83 391.05 549.78 387.7 553.7C384.35 557.62 380.97 561.97 377.6 566.3C374.23 570.63 370.43 574.98 367.5 579.7C364.57 584.42 362.35 591.02 360 594.6C357.65 598.18 355.7 599.57 353.4 601.2C351.1 602.83 348.77 603.93 346.2 604.4C343.63 604.87 340.55 604.75 338 604C335.45 603.25 332.85 601.52 330.9 599.9C328.95 598.28 327.33 596.42 326.3 594.3C325.27 592.18 324.7 589.58 324.7 587.2C324.7 584.82 325.27 582.73 326.3 580C327.33 577.27 329.45 574.03 330.9 570.8C332.35 567.57 333.98 564.35 335 560.6C336.02 556.85 336.75 552.47 337 548.3C337.25 544.13 336.62 538.65 336.5 535.6C336.38 532.55 336.33 530.93 336.3 530L238.7 530C238.7 543.93 238.7 599.67 238.7 613.6Z" fill="#FDD57A"/>
<path d="M333.2 732.5C334.02 731.67 336.17 729.45 338.1 727.5C340.03 725.55 341.87 722.88 344.8 720.8C347.73 718.72 351.92 716.87 355.7 715C359.48 713.13 363.57 711.15 367.5 709.6C371.43 708.05 375.67 706.72 379.3 705.7C382.93 704.68 386.37 703.78 389.3 703.5C392.23 703.22 395.07 703.5 396.9 704C398.73 704.5 400.02 705.38 400.3 706.5C400.58 707.62 399.87 709.15 398.6 710.7C397.33 712.25 395.08 713.97 392.7 715.8C390.32 717.63 387.1 719.88 384.3 721.7C381.5 723.52 378.75 724.98 375.9 726.7C373.05 728.42 368.65 731.12 367.2 732Z" fill="#FDD57A"/>
<path d="M240.5 598C241.4 598.38 243.78 599.25 245.9 600.3C248.02 601.35 250.28 603.12 253.2 604.3C256.12 605.48 259.98 606.8 263.4 607.4C266.82 608 270.28 607.98 273.7 607.9C277.12 607.82 280.85 607.5 283.9 606.9C286.95 606.3 289.62 605.32 292 604.3C294.38 603.28 296.67 602.23 298.2 600.8C299.73 599.37 300.52 597.8 301.2 595.7C301.88 593.6 301.62 590.65 302.3 588.2C302.98 585.75 303.77 583.55 305.3 581C306.83 578.45 309.53 575.78 311.5 572.9C313.47 570.02 315.67 566.95 317.1 563.7C318.53 560.45 319.53 556.82 320.1 553.4C320.67 549.98 320.75 546.17 320.5 543.2C320.25 540.23 319.13 537.8 318.6 535.6C318.07 533.4 317.52 530.93 317.3 530L240 530Z" fill="#FDC963"/>
<path d="M240.5 593.1C241.4 593.53 244.12 594.68 245.9 595.7C247.68 596.72 248.78 598.1 251.2 599.2C253.62 600.3 257.33 601.7 260.4 602.3C263.47 602.9 266.53 603.05 269.6 602.8C272.67 602.55 276.08 601.82 278.8 600.8C281.52 599.78 283.87 598.42 285.9 596.7C287.93 594.98 289.47 592.53 291 590.5C292.53 588.47 293.57 586.58 295.1 584.5C296.63 582.42 298.32 580.62 300.2 578C302.08 575.38 304.7 571.87 306.4 568.8C308.1 565.73 309.38 562.85 310.4 559.6C311.42 556.35 312.23 552.2 312.5 549.3C312.77 546.4 312.52 544.48 312 542.2C311.48 539.92 310.2 537.63 309.4 535.6C308.6 533.57 307.57 530.93 307.2 530L240 530Z" fill="#FDB744"/>
<path d="M240.5 588.5C241.4 588.93 243.95 590 245.9 591.1C247.85 592.2 249.78 594.08 252.2 595.1C254.62 596.12 257.68 596.85 260.4 597.2C263.12 597.55 265.95 597.55 268.5 597.2C271.05 596.85 273.65 596.03 275.7 595.1C277.75 594.17 279.27 593.22 280.8 591.6C282.33 589.98 283.53 587.75 284.9 585.4C286.27 583.05 287.72 580.03 289 577.5C290.28 574.97 291.15 572.5 292.6 570.2C294.05 567.9 296.12 565.77 297.7 563.7C299.28 561.63 300.88 559.75 302.1 557.8C303.32 555.85 304.38 553.95 305 552C305.62 550.05 305.92 548.05 305.8 546.1C305.68 544.15 305.15 542.05 304.3 540.3C303.45 538.55 302 537.32 300.7 535.6C299.4 533.88 297.2 530.93 296.5 530L260.8 530C260.15 530.93 258.4 533.77 256.9 535.6C255.4 537.43 253.38 538.88 251.8 541C250.22 543.12 248.4 546.47 247.4 548.3C246.4 550.13 246.48 550.47 245.8 552C245.12 553.53 243.72 556.58 243.3 557.5L240 557.5Z" fill="#FBAA38"/>
<path d="M240.5 582.6C241.4 583.07 244.12 584.25 245.9 585.4C247.68 586.55 249.13 588.38 251.2 589.5C253.27 590.62 255.75 591.58 258.3 592.1C260.85 592.62 264.12 592.77 266.5 592.6C268.88 592.43 270.9 591.95 272.6 591.1C274.3 590.25 275.5 588.95 276.7 587.5C277.9 586.05 278.87 584.15 279.8 582.4C280.73 580.65 281.5 578.9 282.3 577C283.1 575.1 283.48 572.98 284.6 571C285.72 569.02 287.42 567.05 289 565.1C290.58 563.15 292.52 561.25 294.1 559.3C295.68 557.35 297.53 555.35 298.5 553.4C299.47 551.45 299.9 549.53 299.9 547.6C299.9 545.67 299.35 543.5 298.5 541.8C297.65 540.1 296.3 539.37 294.8 537.4C293.3 535.43 290.38 531.23 289.5 530L268 530C267.37 530.93 266.05 533.52 264.2 535.6C262.35 537.68 259.1 539.9 256.9 542.5C254.7 545.1 252.58 548.53 251 551.2C249.42 553.87 248.25 556.67 247.4 558.5C246.55 560.33 246.5 560.7 245.9 562.2C245.3 563.7 244.15 566.62 243.8 567.5L240 567.5Z" fill="#F89A2E"/>
<path d="M277.3 545C278.87 544.83 280.6 545.73 281.6 546.6C282.6 547.47 283.1 548.7 283.3 550.2C283.5 551.7 283.68 553.35 282.8 555.6C281.92 557.85 280.02 561.13 278 563.7C275.98 566.27 272.95 569.22 270.7 571C268.45 572.78 266.17 574.17 264.5 574.4C262.83 574.63 261.37 573.7 260.7 572.4C260.03 571.1 260.17 568.78 260.5 566.6C260.83 564.42 261.6 561.62 262.7 559.3C263.8 556.98 265.52 554.65 267.1 552.7C268.68 550.75 270.5 548.88 272.2 547.6C273.9 546.32 275.73 545.17 277.3 545Z" fill="#F08220"/>
</g>
<path d="M453.8 535.5H245.5M245.5 727.5H453.8" fill="none" stroke="#C6C6CC" stroke-width="0.5"/>
<path d="M245.5 535.5V727.5" fill="none" stroke="#A6A6A6" stroke-width="0.6"/>
<path d="M260.9 727.5v2.2M260.9 535.5v-2.4M281.1 727.5v2.2M281.1 535.5v-2.4M301.3 727.5v2.2M301.3 535.5v-2.4M321.5 727.5v2.2M321.5 535.5v-2.4M341.7 727.5v2.2M341.7 535.5v-2.4M361.9 727.5v2.2M361.9 535.5v-2.4M382.1 727.5v2.2M382.1 535.5v-2.4M402.3 727.5v2.2M402.3 535.5v-2.4M422.5 727.5v2.2M422.5 535.5v-2.4M442.7 727.5v2.2M442.7 535.5v-2.4M245.5 550.8h-2.5M245.5 570.95h-2.5M245.5 591.1h-2.5M245.5 611.25h-2.5M245.5 631.4h-2.5M245.5 651.55h-2.5M245.5 671.7h-2.5M245.5 691.85h-2.5M245.5 712h-2.5" stroke="#9E9E9E" stroke-width="0.45" fill="none"/>
<g font-family="'Liberation Serif','Noto Serif CJK SC',serif" font-size="5.9" fill="#4a4a4a" stroke="#4a4a4a" stroke-width="0.12">
<text x="260.9" y="736.61" text-anchor="middle" textLength="14.75" lengthAdjust="spacingAndGlyphs">111.6</text>
<text x="281.1" y="736.61" text-anchor="middle" textLength="14.75" lengthAdjust="spacingAndGlyphs">111.8</text>
<text x="301.3" y="736.61" text-anchor="middle" textLength="8.85" lengthAdjust="spacingAndGlyphs">112</text>
<text x="321.5" y="736.61" text-anchor="middle" textLength="14.75" lengthAdjust="spacingAndGlyphs">112.2</text>
<text x="341.7" y="736.61" text-anchor="middle" textLength="14.75" lengthAdjust="spacingAndGlyphs">112.4</text>
<text x="361.9" y="736.61" text-anchor="middle" textLength="14.75" lengthAdjust="spacingAndGlyphs">112.6</text>
<text x="382.1" y="736.61" text-anchor="middle" textLength="14.75" lengthAdjust="spacingAndGlyphs">112.8</text>
<text x="402.3" y="736.61" text-anchor="middle" textLength="8.85" lengthAdjust="spacingAndGlyphs">113</text>
<text x="422.5" y="736.61" text-anchor="middle" textLength="14.75" lengthAdjust="spacingAndGlyphs">113.2</text>
<text x="442.7" y="736.61" text-anchor="middle" textLength="14.75" lengthAdjust="spacingAndGlyphs">113.4</text>
<text x="242.5" y="553.41" text-anchor="end" textLength="11.8" lengthAdjust="spacingAndGlyphs">29.4</text>
<text x="242.5" y="573.56" text-anchor="end" textLength="11.8" lengthAdjust="spacingAndGlyphs">29.2</text>
<text x="242.5" y="593.71" text-anchor="end" textLength="5.9" lengthAdjust="spacingAndGlyphs">29</text>
<text x="242.5" y="613.86" text-anchor="end" textLength="11.8" lengthAdjust="spacingAndGlyphs">28.8</text>
<text x="242.5" y="634.01" text-anchor="end" textLength="11.8" lengthAdjust="spacingAndGlyphs">28.6</text>
<text x="242.5" y="654.16" text-anchor="end" textLength="11.8" lengthAdjust="spacingAndGlyphs">28.4</text>
<text x="242.5" y="674.31" text-anchor="end" textLength="11.8" lengthAdjust="spacingAndGlyphs">28.2</text>
<text x="242.5" y="694.46" text-anchor="end" textLength="5.9" lengthAdjust="spacingAndGlyphs">28</text>
<text x="242.5" y="714.61" text-anchor="end" textLength="11.8" lengthAdjust="spacingAndGlyphs">27.8</text>
</g>
<g font-family="'Liberation Serif','Noto Serif CJK SC',serif" font-size="5.9" fill="#2a2a2a" stroke="#2a2a2a" stroke-width="0.1" text-anchor="middle" clip-path="url(#cph)">
<text transform="translate(335 559.1) rotate(-80)" y="1.95" textLength="5.9" lengthAdjust="spacingAndGlyphs">90</text>
<text transform="translate(360 591.8) rotate(-50)" y="1.95" textLength="5.9" lengthAdjust="spacingAndGlyphs">90</text>
<text transform="translate(435.8 557.5) rotate(-55)" y="1.95" textLength="5.9" lengthAdjust="spacingAndGlyphs">90</text>
<text transform="translate(394.6 627) rotate(-62)" y="1.95" textLength="5.9" lengthAdjust="spacingAndGlyphs">90</text>
<text transform="translate(314.2 635.7) rotate(35)" y="1.95" textLength="5.9" lengthAdjust="spacingAndGlyphs">90</text>
<text transform="translate(384 676.3) rotate(20)" y="1.95" textLength="5.9" lengthAdjust="spacingAndGlyphs">90</text>
<text transform="translate(373.9 707.9) rotate(-20)" y="1.95" textLength="5.9" lengthAdjust="spacingAndGlyphs">90</text>
<text transform="translate(281 560) rotate(-62)" y="1.95" textLength="8.85" lengthAdjust="spacingAndGlyphs">750</text>
<text transform="translate(295.2 559.3) rotate(-64)" y="1.95" textLength="8.85" lengthAdjust="spacingAndGlyphs">380</text>
<text transform="translate(301.8 559.6) rotate(-64)" y="1.95" textLength="8.85" lengthAdjust="spacingAndGlyphs">280</text>
<text transform="translate(309.8 559.6) rotate(-66)" y="1.95" textLength="8.85" lengthAdjust="spacingAndGlyphs">190</text>
<text transform="translate(317.4 559.6) rotate(-70)" y="1.95" textLength="8.85" lengthAdjust="spacingAndGlyphs">140</text>
</g>
<path d="M301.3 543.75C300.56 544.92 298.34 548.5 296.86 550.8C295.37 553.1 293.86 555.62 292.41 557.55C290.96 559.48 289.5 560.93 288.17 562.39C286.84 563.85 285.7 564.8 284.43 566.32C283.17 567.83 281.81 569.77 280.6 571.45C279.38 573.13 277.92 574.88 277.16 576.39C276.4 577.9 276.37 579.21 276.05 580.52C275.73 581.83 275.66 582.96 275.24 584.25C274.82 585.54 274.18 586.92 273.52 588.28C272.87 589.64 271.67 591.72 271.3 592.41" fill="none" stroke="#000" stroke-width="1.4" stroke-linecap="round" stroke-linejoin="round"/>
<g font-family="'Liberation Serif','Noto Serif CJK SC',serif" font-size="5.9" fill="#3c3c3c" text-anchor="middle">
<rect x="268.73" y="586.61" width="1.72" height="1.72" fill="#000"/>
<text x="269.59" y="585.49" textLength="20.65" lengthAdjust="spacingAndGlyphs">Changde</text>
<rect x="411.04" y="552.36" width="1.72" height="1.72" fill="#000"/>
<text x="411.9" y="551.24" textLength="20.65" lengthAdjust="spacingAndGlyphs">Yueyang</text>
<rect x="333.57" y="630.74" width="1.72" height="1.72" fill="#000"/>
<text x="334.43" y="629.62" textLength="17.7" lengthAdjust="spacingAndGlyphs">Yiyang</text>
<rect x="399.22" y="670.94" width="1.72" height="1.72" fill="#000"/>
<text x="400.08" y="669.82" textLength="23.6" lengthAdjust="spacingAndGlyphs">Changsha</text>
<rect x="392.86" y="704.09" width="1.72" height="1.72" fill="#000"/>
<text x="393.72" y="702.97" textLength="23.6" lengthAdjust="spacingAndGlyphs">Xiangtan</text>
<rect x="416.79" y="705.9" width="1.72" height="1.72" fill="#000"/>
<text x="417.65" y="704.78" textLength="20.65" lengthAdjust="spacingAndGlyphs">Zhuzhou</text>
<rect x="299.43" y="717.49" width="1.72" height="1.72" fill="#000"/>
<text x="300.29" y="716.37" textLength="14.75" lengthAdjust="spacingAndGlyphs">Loudi</text>
</g>
</g>
<g id="panel-i">
<rect x="476.8" y="535.5" width="208.7" height="192" fill="#FFDF8E"/>
<g clip-path="url(#cpi)" stroke="#A58432" stroke-opacity="0.5" stroke-width="0.36" stroke-linejoin="round">
<path d="M471.5 615C472.48 615.35 475.2 616.23 477.4 617.1C479.6 617.97 480.93 619.08 484.7 620.2C488.47 621.32 494.92 623.02 500 623.8C505.08 624.58 511.32 624.42 515.2 624.9C519.08 625.38 520.58 625.83 523.3 626.7C526.02 627.57 528.77 628.95 531.5 630.1C534.23 631.25 537.2 632.42 539.7 633.6C542.2 634.78 543.8 635.4 546.5 637.2C549.2 639 552.65 641.93 555.9 644.4C559.15 646.87 562.63 649.75 566 652C569.37 654.25 572.6 655.95 576.1 657.9C579.6 659.85 583.22 661.75 587 663.7C590.78 665.65 594.87 667.78 598.8 669.6C602.73 671.42 606.97 673.07 610.6 674.6C614.23 676.13 617.8 677.73 620.6 678.8C623.4 679.87 625.43 680.65 627.4 681C629.37 681.35 630.87 681.4 632.4 680.9C633.93 680.4 635.77 679.32 636.6 678C637.43 676.68 637.82 674.95 637.4 673C636.98 671.05 635.63 668.82 634.1 666.3C632.57 663.78 630.02 660.98 628.2 657.9C626.38 654.82 624.32 650.88 623.2 647.8C622.08 644.72 621.32 642.2 621.5 639.4C621.68 636.6 622.48 634.52 624.3 631C626.12 627.48 629.65 623.22 632.4 618.3C635.15 613.38 638 607.1 640.8 601.5C643.6 595.9 646.4 589.73 649.2 584.7C652 579.67 654.53 575.77 657.6 571.3C660.67 566.83 664.25 562.38 667.6 557.9C670.95 553.42 674.87 548.08 677.7 544.4C680.53 540.72 682.63 538.23 684.6 535.8C686.57 533.37 688.68 530.8 689.5 529.8L641.5 530L641.5 530C640.68 530.92 638.68 533.37 636.6 535.5C634.52 537.63 631.93 539.77 629 542.8C626.07 545.83 622.35 549.78 619 553.7C615.65 557.62 612.27 561.97 608.9 566.3C605.53 570.63 601.73 574.98 598.8 579.7C595.87 584.42 593.65 591.02 591.3 594.6C588.95 598.18 587 599.57 584.7 601.2C582.4 602.83 580.07 603.93 577.5 604.4C574.93 604.87 571.85 604.75 569.3 604C566.75 603.25 564.15 601.52 562.2 599.9C560.25 598.28 558.63 596.42 557.6 594.3C556.57 592.18 556 589.58 556 587.2C556 584.82 556.57 582.73 557.6 580C558.63 577.27 560.75 574.03 562.2 570.8C563.65 567.57 565.28 564.35 566.3 560.6C567.32 556.85 568.05 552.47 568.3 548.3C568.55 544.13 567.92 538.65 567.8 535.6C567.68 532.55 567.63 530.93 567.6 530L470 530C470 543.93 470 599.67 470 613.6Z" fill="#FDD57A"/>
<path d="M564.5 732.5C565.32 731.67 567.47 729.45 569.4 727.5C571.33 725.55 573.17 722.88 576.1 720.8C579.03 718.72 583.22 716.87 587 715C590.78 713.13 594.87 711.15 598.8 709.6C602.73 708.05 606.97 706.72 610.6 705.7C614.23 704.68 617.67 703.78 620.6 703.5C623.53 703.22 626.37 703.5 628.2 704C630.03 704.5 631.32 705.38 631.6 706.5C631.88 707.62 631.17 709.15 629.9 710.7C628.63 712.25 626.38 713.97 624 715.8C621.62 717.63 618.4 719.88 615.6 721.7C612.8 723.52 610.05 724.98 607.2 726.7C604.35 728.42 599.95 731.12 598.5 732Z" fill="#FDD57A"/>
<path d="M471.95 600.2C472.85 600.58 475.23 601.82 477.35 602.5C479.47 603.18 481.73 603.48 484.65 604.3C487.57 605.12 491.43 606.8 494.85 607.4C498.27 608 501.73 607.98 505.15 607.9C508.57 607.82 512.3 607.5 515.35 606.9C518.4 606.3 521.07 605.32 523.45 604.3C525.83 603.28 528.12 602.23 529.65 600.8C531.18 599.37 531.97 597.8 532.65 595.7C533.33 593.6 533.07 590.65 533.75 588.2C534.43 585.75 535.22 583.55 536.75 581C538.28 578.45 540.98 575.78 542.95 572.9C544.92 570.02 547.12 566.95 548.55 563.7C549.98 560.45 550.98 556.82 551.55 553.4C552.12 549.98 552.2 546.17 551.95 543.2C551.7 540.23 550.58 537.8 550.05 535.6C549.52 533.4 548.97 530.93 548.75 530L471.45 530Z" fill="#FDC963"/>
<path d="M471.95 591.8C472.85 592.23 475.57 593.17 477.35 594.4C479.13 595.63 480.23 597.88 482.65 599.2C485.07 600.52 488.78 601.7 491.85 602.3C494.92 602.9 497.98 603.05 501.05 602.8C504.12 602.55 507.53 601.82 510.25 600.8C512.97 599.78 515.32 598.42 517.35 596.7C519.38 594.98 520.92 592.53 522.45 590.5C523.98 588.47 525.02 586.58 526.55 584.5C528.08 582.42 529.77 580.62 531.65 578C533.53 575.38 536.15 571.87 537.85 568.8C539.55 565.73 540.83 562.85 541.85 559.6C542.87 556.35 543.68 552.2 543.95 549.3C544.22 546.4 543.97 544.48 543.45 542.2C542.93 539.92 541.65 537.63 540.85 535.6C540.05 533.57 539.02 530.93 538.65 530L471.45 530Z" fill="#FDB744"/>
<path d="M471.95 586.7C472.85 587.13 475.4 587.9 477.35 589.3C479.3 590.7 481.23 593.78 483.65 595.1C486.07 596.42 489.13 596.85 491.85 597.2C494.57 597.55 497.4 597.55 499.95 597.2C502.5 596.85 505.1 596.03 507.15 595.1C509.2 594.17 510.72 593.22 512.25 591.6C513.78 589.98 514.98 587.75 516.35 585.4C517.72 583.05 519.17 580.03 520.45 577.5C521.73 574.97 522.6 572.5 524.05 570.2C525.5 567.9 527.57 565.77 529.15 563.7C530.73 561.63 532.33 559.75 533.55 557.8C534.77 555.85 535.83 553.95 536.45 552C537.07 550.05 537.37 548.05 537.25 546.1C537.13 544.15 536.6 542.05 535.75 540.3C534.9 538.55 533.45 537.32 532.15 535.6C530.85 533.88 528.65 530.93 527.95 530L492.25 530C491.6 530.93 489.85 533.77 488.35 535.6C486.85 537.43 484.83 538.88 483.25 541C481.67 543.12 479.85 546.47 478.85 548.3C477.85 550.13 477.93 550.47 477.25 552C476.57 553.53 475.17 556.58 474.75 557.5L471.45 557.5Z" fill="#FBAA38"/>
<path d="M471.95 579.8C472.85 580.27 475.57 580.98 477.35 582.6C479.13 584.22 480.58 587.92 482.65 589.5C484.72 591.08 487.2 591.58 489.75 592.1C492.3 592.62 495.57 592.77 497.95 592.6C500.33 592.43 502.35 591.95 504.05 591.1C505.75 590.25 506.95 588.95 508.15 587.5C509.35 586.05 510.32 584.15 511.25 582.4C512.18 580.65 512.95 578.9 513.75 577C514.55 575.1 514.93 572.98 516.05 571C517.17 569.02 518.87 567.05 520.45 565.1C522.03 563.15 523.97 561.25 525.55 559.3C527.13 557.35 528.98 555.35 529.95 553.4C530.92 551.45 531.35 549.53 531.35 547.6C531.35 545.67 530.8 543.5 529.95 541.8C529.1 540.1 527.75 539.37 526.25 537.4C524.75 535.43 521.83 531.23 520.95 530L499.45 530C498.82 530.93 497.5 533.52 495.65 535.6C493.8 537.68 490.55 539.9 488.35 542.5C486.15 545.1 484.03 548.53 482.45 551.2C480.87 553.87 479.7 556.67 478.85 558.5C478 560.33 477.95 560.7 477.35 562.2C476.75 563.7 475.6 566.62 475.25 567.5L471.45 567.5Z" fill="#F89A2E"/>
<path d="M508.3 547.2C510.02 547.18 511.75 547.77 512.8 548.6C513.85 549.43 514.5 550.67 514.6 552.2C514.7 553.73 514.57 555.53 513.4 557.8C512.23 560.07 509.67 563.37 507.6 565.8C505.53 568.23 503.07 570.93 501 572.4C498.93 573.87 496.93 574.68 495.2 574.6C493.47 574.52 491.63 573.23 490.6 571.9C489.57 570.57 488.85 568.58 489 566.6C489.15 564.62 490.23 562.2 491.5 560C492.77 557.8 494.77 555.28 496.6 553.4C498.43 551.52 500.55 549.73 502.5 548.7C504.45 547.67 506.58 547.22 508.3 547.2Z" fill="#F08220"/>
</g>
<path d="M685.5 535.5H476.8M476.8 727.5H685.5" fill="none" stroke="#C6C6CC" stroke-width="0.5"/>
<path d="M476.8 535.5V727.5" fill="none" stroke="#A6A6A6" stroke-width="0.6"/>
<path d="M491.9 727.5v2.2M491.9 535.5v-2.4M512.1 727.5v2.2M512.1 535.5v-2.4M532.3 727.5v2.2M532.3 535.5v-2.4M552.5 727.5v2.2M552.5 535.5v-2.4M572.7 727.5v2.2M572.7 535.5v-2.4M592.9 727.5v2.2M592.9 535.5v-2.4M613.1 727.5v2.2M613.1 535.5v-2.4M633.3 727.5v2.2M633.3 535.5v-2.4M653.5 727.5v2.2M653.5 535.5v-2.4M673.7 727.5v2.2M673.7 535.5v-2.4M476.8 550.8h-2.5M476.8 570.95h-2.5M476.8 591.1h-2.5M476.8 611.25h-2.5M476.8 631.4h-2.5M476.8 651.55h-2.5M476.8 671.7h-2.5M476.8 691.85h-2.5M476.8 712h-2.5" stroke="#9E9E9E" stroke-width="0.45" fill="none"/>
<g font-family="'Liberation Serif','Noto Serif CJK SC',serif" font-size="5.9" fill="#4a4a4a" stroke="#4a4a4a" stroke-width="0.12">
<text x="491.9" y="736.61" text-anchor="middle" textLength="14.75" lengthAdjust="spacingAndGlyphs">111.6</text>
<text x="512.1" y="736.61" text-anchor="middle" textLength="14.75" lengthAdjust="spacingAndGlyphs">111.8</text>
<text x="532.3" y="736.61" text-anchor="middle" textLength="8.85" lengthAdjust="spacingAndGlyphs">112</text>
<text x="552.5" y="736.61" text-anchor="middle" textLength="14.75" lengthAdjust="spacingAndGlyphs">112.2</text>
<text x="572.7" y="736.61" text-anchor="middle" textLength="14.75" lengthAdjust="spacingAndGlyphs">112.4</text>
<text x="592.9" y="736.61" text-anchor="middle" textLength="14.75" lengthAdjust="spacingAndGlyphs">112.6</text>
<text x="613.1" y="736.61" text-anchor="middle" textLength="14.75" lengthAdjust="spacingAndGlyphs">112.8</text>
<text x="633.3" y="736.61" text-anchor="middle" textLength="8.85" lengthAdjust="spacingAndGlyphs">113</text>
<text x="653.5" y="736.61" text-anchor="middle" textLength="14.75" lengthAdjust="spacingAndGlyphs">113.2</text>
<text x="673.7" y="736.61" text-anchor="middle" textLength="14.75" lengthAdjust="spacingAndGlyphs">113.4</text>
<text x="473.8" y="553.41" text-anchor="end" textLength="11.8" lengthAdjust="spacingAndGlyphs">29.4</text>
<text x="473.8" y="573.56" text-anchor="end" textLength="11.8" lengthAdjust="spacingAndGlyphs">29.2</text>
<text x="473.8" y="593.71" text-anchor="end" textLength="5.9" lengthAdjust="spacingAndGlyphs">29</text>
<text x="473.8" y="613.86" text-anchor="end" textLength="11.8" lengthAdjust="spacingAndGlyphs">28.8</text>
<text x="473.8" y="634.01" text-anchor="end" textLength="11.8" lengthAdjust="spacingAndGlyphs">28.6</text>
<text x="473.8" y="654.16" text-anchor="end" textLength="11.8" lengthAdjust="spacingAndGlyphs">28.4</text>
<text x="473.8" y="674.31" text-anchor="end" textLength="11.8" lengthAdjust="spacingAndGlyphs">28.2</text>
<text x="473.8" y="694.46" text-anchor="end" textLength="5.9" lengthAdjust="spacingAndGlyphs">28</text>
<text x="473.8" y="714.61" text-anchor="end" textLength="11.8" lengthAdjust="spacingAndGlyphs">27.8</text>
</g>
<g font-family="'Liberation Serif','Noto Serif CJK SC',serif" font-size="5.9" fill="#2a2a2a" stroke="#2a2a2a" stroke-width="0.1" text-anchor="middle" clip-path="url(#cpi)">
<text transform="translate(566.3 559.1) rotate(-80)" y="1.95" textLength="5.9" lengthAdjust="spacingAndGlyphs">90</text>
<text transform="translate(591.3 591.8) rotate(-50)" y="1.95" textLength="5.9" lengthAdjust="spacingAndGlyphs">90</text>
<text transform="translate(667.1 557.5) rotate(-55)" y="1.95" textLength="5.9" lengthAdjust="spacingAndGlyphs">90</text>
<text transform="translate(625.9 627) rotate(-62)" y="1.95" textLength="5.9" lengthAdjust="spacingAndGlyphs">90</text>
<text transform="translate(545.5 635.7) rotate(35)" y="1.95" textLength="5.9" lengthAdjust="spacingAndGlyphs">90</text>
<text transform="translate(615.3 676.3) rotate(20)" y="1.95" textLength="5.9" lengthAdjust="spacingAndGlyphs">90</text>
<text transform="translate(605.2 707.9) rotate(-20)" y="1.95" textLength="5.9" lengthAdjust="spacingAndGlyphs">90</text>
<text transform="translate(512.45 560) rotate(-62)" y="1.95" textLength="8.85" lengthAdjust="spacingAndGlyphs">750</text>
<text transform="translate(526.65 559.3) rotate(-64)" y="1.95" textLength="8.85" lengthAdjust="spacingAndGlyphs">380</text>
<text transform="translate(533.25 559.6) rotate(-64)" y="1.95" textLength="8.85" lengthAdjust="spacingAndGlyphs">280</text>
<text transform="translate(541.25 559.6) rotate(-66)" y="1.95" textLength="8.85" lengthAdjust="spacingAndGlyphs">190</text>
<text transform="translate(548.85 559.6) rotate(-70)" y="1.95" textLength="8.85" lengthAdjust="spacingAndGlyphs">140</text>
</g>
<path d="M532.3 543.75C531.56 544.92 529.34 548.5 527.86 550.8C526.37 553.1 524.86 555.62 523.41 557.55C521.96 559.48 520.5 560.93 519.17 562.39C517.84 563.85 516.7 564.8 515.43 566.32C514.17 567.83 512.81 569.77 511.6 571.45C510.38 573.13 508.92 574.88 508.16 576.39C507.4 577.9 507.37 579.21 507.05 580.52C506.73 581.83 506.66 582.96 506.24 584.25C505.82 585.54 505.18 586.92 504.52 588.28C503.87 589.64 502.67 591.72 502.3 592.41" fill="none" stroke="#000" stroke-width="1.4" stroke-linecap="round" stroke-linejoin="round"/>
<g font-family="'Liberation Serif','Noto Serif CJK SC',serif" font-size="5.9" fill="#3c3c3c" text-anchor="middle">
<rect x="499.73" y="586.61" width="1.72" height="1.72" fill="#000"/>
<text x="500.59" y="585.49" textLength="20.65" lengthAdjust="spacingAndGlyphs">Changde</text>
<rect x="642.04" y="552.36" width="1.72" height="1.72" fill="#000"/>
<text x="642.9" y="551.24" textLength="20.65" lengthAdjust="spacingAndGlyphs">Yueyang</text>
<rect x="564.57" y="630.74" width="1.72" height="1.72" fill="#000"/>
<text x="565.43" y="629.62" textLength="17.7" lengthAdjust="spacingAndGlyphs">Yiyang</text>
<rect x="630.22" y="670.94" width="1.72" height="1.72" fill="#000"/>
<text x="631.08" y="669.82" textLength="23.6" lengthAdjust="spacingAndGlyphs">Changsha</text>
<rect x="623.86" y="704.09" width="1.72" height="1.72" fill="#000"/>
<text x="624.72" y="702.97" textLength="23.6" lengthAdjust="spacingAndGlyphs">Xiangtan</text>
<rect x="647.79" y="705.9" width="1.72" height="1.72" fill="#000"/>
<text x="648.65" y="704.78" textLength="20.65" lengthAdjust="spacingAndGlyphs">Zhuzhou</text>
<rect x="530.43" y="717.49" width="1.72" height="1.72" fill="#000"/>
<text x="531.29" y="716.37" textLength="14.75" lengthAdjust="spacingAndGlyphs">Loudi</text>
</g>
</g>
<g id="colorbar">
<rect x="41.3" y="187.9" width="12.91" height="7.8" fill="#FFFDE2"/>
<rect x="54.16" y="187.9" width="12.91" height="7.8" fill="#FFF6C3"/>
<rect x="67.02" y="187.9" width="12.91" height="7.8" fill="#FFEBAA"/>
<rect x="79.88" y="187.9" width="12.91" height="7.8" fill="#FFDF8E"/>
<rect x="92.74" y="187.9" width="12.91" height="7.8" fill="#FDD57A"/>
<rect x="105.6" y="187.9" width="12.91" height="7.8" fill="#FDC963"/>
<rect x="118.46" y="187.9" width="12.91" height="7.8" fill="#FDB744"/>
<rect x="131.32" y="187.9" width="12.91" height="7.8" fill="#FBAA38"/>
<rect x="144.18" y="187.9" width="12.91" height="7.8" fill="#F89A2E"/>
<rect x="157.04" y="187.9" width="12.91" height="7.8" fill="#F08220"/>
<path d="M41.3 187.9V195.7M54.16 187.9V195.7M67.02 187.9V195.7M79.88 187.9V195.7M92.74 187.9V195.7M105.6 187.9V195.7M118.46 187.9V195.7M131.32 187.9V195.7M144.18 187.9V195.7M157.04 187.9V195.7M169.9 187.9V195.7" stroke="#8a6a30" stroke-width="0.4" stroke-opacity="0.75" fill="none"/>
<path d="M41.3 187.9H169.9M41.3 195.7H169.9" stroke="#B9A36A" stroke-width="0.35" fill="none"/>
<g font-family="'Liberation Serif','Noto Serif CJK SC',serif" font-size="5.1" fill="#4a4a4a" stroke="#4a4a4a" stroke-width="0.12" text-anchor="middle">
<text x="41.7" y="202.0" textLength="2.4" lengthAdjust="spacingAndGlyphs">5</text>
<text x="54.56" y="202.0" textLength="4.8" lengthAdjust="spacingAndGlyphs">10</text>
<text x="67.42" y="202.0" textLength="4.8" lengthAdjust="spacingAndGlyphs">20</text>
<text x="80.28" y="202.0" textLength="4.8" lengthAdjust="spacingAndGlyphs">40</text>
<text x="93.14" y="202.0" textLength="4.8" lengthAdjust="spacingAndGlyphs">90</text>
<text x="106" y="202.0" textLength="7.2" lengthAdjust="spacingAndGlyphs">140</text>
<text x="118.86" y="202.0" textLength="7.2" lengthAdjust="spacingAndGlyphs">190</text>
<text x="131.72" y="202.0" textLength="7.2" lengthAdjust="spacingAndGlyphs">280</text>
<text x="144.58" y="202.0" textLength="7.2" lengthAdjust="spacingAndGlyphs">380</text>
<text x="157.44" y="202.0" textLength="7.2" lengthAdjust="spacingAndGlyphs">750</text>
</g>
<text x="172.6" y="194.9" font-family="'Liberation Serif','Noto Serif CJK SC',serif" font-size="5.6" fill="#4a4a4a" stroke="#4a4a4a" stroke-width="0.1" textLength="24.8" lengthAdjust="spacingAndGlyphs">PGA /gal</text>
</g>
<g id="captions" font-family="'Liberation Serif',serif" font-size="18.5" fill="#000" text-anchor="middle">
<text x="107.5" y="220.9">(a) 63% probability of</text>
<text x="107.5" y="241.4">exceedance in 50 years,</text>
<text x="107.5" y="262.3">SHZ-CN map</text>
<text x="338.3" y="220.9">(b) 63% probability of</text>
<text x="338.3" y="241.4">exceedance in 50 years, the</text>
<text x="338.3" y="262.3">FFS model</text>
<text x="569.1" y="220.9">(c) 63% probability of</text>
<text x="569.1" y="241.4">exceedance in 50 years, the</text>
<text x="569.1" y="262.3">SFS model</text>
<text x="107.5" y="487">(d) 10% probability of</text>
<text x="107.5" y="507.6">exceedance in 50 years,</text>
<text x="107.5" y="528.4">SHZ-CN map</text>
<text x="338.3" y="487">(e) 10% probability of</text>
<text x="338.3" y="507.6">exceedance in 50 years, the</text>
<text x="338.3" y="528.4">FFS model</text>
<text x="569.1" y="487">(f) 10% probability of</text>
<text x="569.1" y="507.6">exceedance in 50 years, the</text>
<text x="569.1" y="528.4">SFS model</text>
<text x="107.5" y="753.6">(g) 2% probability of</text>
<text x="107.5" y="774.2">exceedance in 50 years,</text>
<text x="107.5" y="795.2">SHZ-CN map</text>
<text x="338.3" y="753.6">(h) 2% probability of</text>
<text x="338.3" y="774.2">exceedance in 50 years, the</text>
<text x="338.3" y="795.2">FFS model</text>
<text x="569.1" y="753.6">(i) 2% probability of</text>
<text x="569.1" y="774.2">exceedance in 50 years, the</text>
<text x="569.1" y="795.2">SFS model</text>
</g>
</svg>
</body>
</html>
